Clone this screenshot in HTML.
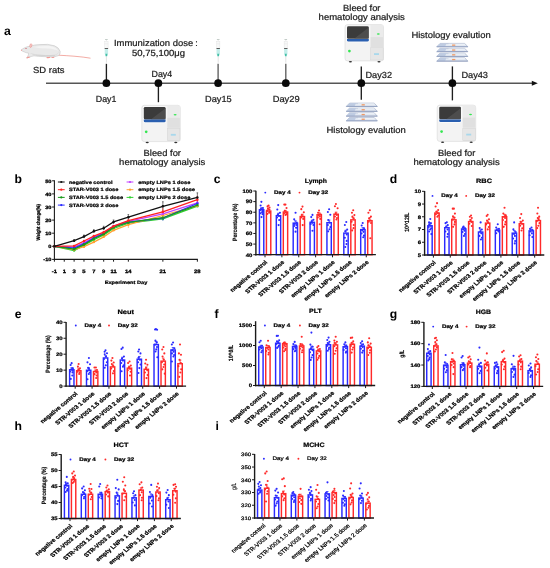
<!DOCTYPE html>
<html><head><meta charset="utf-8"><style>html,body{margin:0;padding:0;background:#fff;width:550px;height:568px;overflow:hidden;}</style></head><body>
<svg width="550" height="568" viewBox="0 0 550 568" style="display:block;will-change:transform;filter:blur(0.3px)">
<rect width="550" height="568" fill="#fff"/>
<g font-family='"Liberation Sans", sans-serif' text-rendering="geometricPrecision">
<text x="3.90" y="35.10" font-size="12.2" font-weight="bold" text-anchor="start" fill="#000" >a</text>
<g><path d="M58.5 55.2 Q66 55.6 74 56.2 Q84 57.0 90.5 58.2" stroke="#f2a39b" stroke-width="0.9" fill="none"/><path d="M21.3 50.1 Q22.5 48.6 25.5 47.4 Q28 46.3 30.5 46.2 Q34 44.6 40 44.6 Q48 43.6 54.5 45.8 Q59 47.6 60.2 51.5 Q60.5 54.5 58.5 55.6 Q55 57 51 56.9 L44 56.6 Q38 56.5 34 55.8 Q31.5 56.3 29.5 57.2 L26.8 58.0 Q26.6 57.4 27.6 56.7 Q28.6 55 28.7 53.2 Q26 52.8 24 51.8 Q22 51.2 21.3 50.1 Z" fill="#e9e9e9" stroke="#bfbfbf" stroke-width="0.55"/><path d="M33 47 Q40 45.5 50 46 Q56 47 58.5 51 Q55 49 48 48.5 Q40 48.5 33 47 Z" fill="#f4f4f4"/><path d="M30 53 Q40 56 56 54.5 Q58 53 59 51 Q58 55 54 56 Q44 56.6 34 55.6 Z" fill="#dadada"/><path d="M36 55.2 Q45 55.8 55 55.5" stroke="#cfcfcf" stroke-width="0.6" fill="none"/><ellipse cx="30.8" cy="45.6" rx="1.0" ry="1.9" fill="#f6c9c6" stroke="#e98a86" stroke-width="0.5" transform="rotate(15 30.8 45.6)"/><circle cx="26.0" cy="48.5" r="0.55" fill="#c8404a"/><path d="M26.6 57.9 Q28 57.4 29.6 57.1" stroke="#f09a94" stroke-width="1.1" fill="none"/><path d="M46.6 57.5 Q48.5 57.9 50.2 57.3" stroke="#f09a94" stroke-width="1.1" fill="none"/><path d="M51.5 57.4 Q53 57.8 54.3 57.2" stroke="#f09a94" stroke-width="1.0" fill="none"/><circle cx="21.5" cy="50.2" r="0.6" fill="#f0a0a0"/></g>
<text x="33.00" y="72.70" font-size="8.8" font-weight="normal" text-anchor="start" fill="#1c1c1c" stroke="#1c1c1c" stroke-width="0.22" textLength="31.5" lengthAdjust="spacingAndGlyphs">SD rats</text>
<line x1="46.00" y1="83.30" x2="533.00" y2="83.30" stroke="#565656" stroke-width="1.5" />
<path d="M531.8 80.8 L537.8 83.3 L531.8 85.8 Z" fill="#111"/>
<line x1="106.40" y1="63.80" x2="106.40" y2="83.00" stroke="#1e1e1e" stroke-width="1.35" />
<line x1="158.40" y1="83.00" x2="158.40" y2="102.20" stroke="#1e1e1e" stroke-width="1.35" />
<line x1="218.10" y1="63.80" x2="218.10" y2="83.00" stroke="#5e5e5e" stroke-width="1.35" />
<line x1="285.80" y1="63.80" x2="285.80" y2="83.00" stroke="#5e5e5e" stroke-width="1.35" />
<line x1="361.30" y1="66.50" x2="361.30" y2="99.70" stroke="#1e1e1e" stroke-width="1.35" />
<line x1="452.40" y1="66.40" x2="452.40" y2="100.40" stroke="#1e1e1e" stroke-width="1.35" />
<circle cx="106.4" cy="83.2" r="3.85" fill="#0a0a0a"/>
<circle cx="158.4" cy="83.2" r="3.85" fill="#0a0a0a"/>
<circle cx="218.1" cy="83.2" r="3.85" fill="#0a0a0a"/>
<circle cx="285.8" cy="83.2" r="3.85" fill="#0a0a0a"/>
<circle cx="361.3" cy="83.2" r="3.85" fill="#0a0a0a"/>
<circle cx="452.4" cy="83.2" r="3.85" fill="#0a0a0a"/>
<g transform="translate(106.40,39.20)"><line x1="-1.3" y1="0.3" x2="1.3" y2="0.3" stroke="#a9b8b0" stroke-width="0.7"/><line x1="0" y1="0.3" x2="0" y2="2" stroke="#d0d0d0" stroke-width="0.5"/><rect x="-1.7" y="2" width="3.4" height="7.2" fill="#f7f8f8" stroke="#e0e0e0" stroke-width="0.4"/><line x1="-1.8" y1="4.6" x2="1.8" y2="4.6" stroke="#e6e6e6" stroke-width="0.5"/><rect x="-1.7" y="8.8" width="3.4" height="0.9" fill="#4a4a4a"/><path d="M-1.7 9.7 L1.7 9.7 L1.7 14.6 L0.8 17 L-0.8 17 L-1.7 14.6 Z" fill="#c4eeea"/><path d="M-1.0 14.6 L1.0 14.6 L0.7 17 L-0.7 17 Z" fill="#43bfa6"/><line x1="0" y1="17" x2="0" y2="23.5" stroke="#c4c4c4" stroke-width="0.5"/></g>
<g transform="translate(218.20,39.20)"><line x1="-1.3" y1="0.3" x2="1.3" y2="0.3" stroke="#a9b8b0" stroke-width="0.7"/><line x1="0" y1="0.3" x2="0" y2="2" stroke="#d0d0d0" stroke-width="0.5"/><rect x="-1.7" y="2" width="3.4" height="7.2" fill="#f7f8f8" stroke="#e0e0e0" stroke-width="0.4"/><line x1="-1.8" y1="4.6" x2="1.8" y2="4.6" stroke="#e6e6e6" stroke-width="0.5"/><rect x="-1.7" y="8.8" width="3.4" height="0.9" fill="#4a4a4a"/><path d="M-1.7 9.7 L1.7 9.7 L1.7 14.6 L0.8 17 L-0.8 17 L-1.7 14.6 Z" fill="#c4eeea"/><path d="M-1.0 14.6 L1.0 14.6 L0.7 17 L-0.7 17 Z" fill="#43bfa6"/><line x1="0" y1="17" x2="0" y2="23.5" stroke="#c4c4c4" stroke-width="0.5"/></g>
<g transform="translate(285.80,39.20)"><line x1="-1.3" y1="0.3" x2="1.3" y2="0.3" stroke="#a9b8b0" stroke-width="0.7"/><line x1="0" y1="0.3" x2="0" y2="2" stroke="#d0d0d0" stroke-width="0.5"/><rect x="-1.7" y="2" width="3.4" height="7.2" fill="#f7f8f8" stroke="#e0e0e0" stroke-width="0.4"/><line x1="-1.8" y1="4.6" x2="1.8" y2="4.6" stroke="#e6e6e6" stroke-width="0.5"/><rect x="-1.7" y="8.8" width="3.4" height="0.9" fill="#4a4a4a"/><path d="M-1.7 9.7 L1.7 9.7 L1.7 14.6 L0.8 17 L-0.8 17 L-1.7 14.6 Z" fill="#c4eeea"/><path d="M-1.0 14.6 L1.0 14.6 L0.7 17 L-0.7 17 Z" fill="#43bfa6"/><line x1="0" y1="17" x2="0" y2="23.5" stroke="#c4c4c4" stroke-width="0.5"/></g>
<text x="114.00" y="46.10" font-size="8.9" font-weight="normal" text-anchor="start" fill="#1c1c1c" stroke="#1c1c1c" stroke-width="0.22" textLength="79.2" lengthAdjust="spacingAndGlyphs">Immunization dose</text>
<text x="195.20" y="46.10" font-size="8.9" font-weight="normal" text-anchor="start" fill="#1c1c1c" stroke="#1c1c1c" stroke-width="0.22" >:</text>
<text x="132.00" y="55.60" font-size="8.9" font-weight="normal" text-anchor="start" fill="#1c1c1c" stroke="#1c1c1c" stroke-width="0.22" textLength="53" lengthAdjust="spacingAndGlyphs">50,75,100μg</text>
<text x="95.80" y="102.40" font-size="8.9" font-weight="normal" text-anchor="start" fill="#1c1c1c" stroke="#1c1c1c" stroke-width="0.22" textLength="20.6" lengthAdjust="spacingAndGlyphs">Day1</text>
<text x="151.60" y="77.20" font-size="8.9" font-weight="normal" text-anchor="start" fill="#1c1c1c" stroke="#1c1c1c" stroke-width="0.22" textLength="20.6" lengthAdjust="spacingAndGlyphs">Day4</text>
<text x="205.10" y="102.40" font-size="8.9" font-weight="normal" text-anchor="start" fill="#1c1c1c" stroke="#1c1c1c" stroke-width="0.22" textLength="26.6" lengthAdjust="spacingAndGlyphs">Day15</text>
<text x="272.70" y="102.40" font-size="8.9" font-weight="normal" text-anchor="start" fill="#1c1c1c" stroke="#1c1c1c" stroke-width="0.22" textLength="26.9" lengthAdjust="spacingAndGlyphs">Day29</text>
<text x="365.50" y="78.00" font-size="8.9" font-weight="normal" text-anchor="start" fill="#1c1c1c" stroke="#1c1c1c" stroke-width="0.22" textLength="26.5" lengthAdjust="spacingAndGlyphs">Day32</text>
<text x="461.40" y="77.80" font-size="8.9" font-weight="normal" text-anchor="start" fill="#1c1c1c" stroke="#1c1c1c" stroke-width="0.22" textLength="26.6" lengthAdjust="spacingAndGlyphs">Day43</text>
<g transform="translate(141.80,105.30) scale(1.0000)"><rect x="0" y="0" width="38.5" height="36.3" rx="2.5" fill="#f3f3f3" stroke="#d8d8d8" stroke-width="0.6"/><rect x="25.6" y="0.4" width="12.5" height="35.5" fill="#ebebeb"/><rect x="25.6" y="12.5" width="12.5" height="10" fill="#e0e0e0"/><rect x="25.6" y="23.2" width="12.5" height="12.2" fill="#e6e6e6" stroke="#d0d0d0" stroke-width="0.4"/><rect x="29" y="28.6" width="5" height="1.8" fill="#a8d8ec"/><path d="M1.2 1.2 L24.6 1.2 L24.6 15.5 Q24.6 18 22 18 L3.8 18 Q1.2 18 1.2 15.5 Z" fill="#fbfbfb"/><rect x="2.0" y="1.6" width="21.8" height="12.6" rx="1.4" fill="#3b3b3b"/><path d="M9 14.2 L23.8 3 L23.8 14.2 Z" fill="#5a5a5a" opacity="0.6"/><path d="M2.0 14.3 L23.8 14.3 L23.8 15.6 Q23.8 16.9 22.4 16.9 L3.4 16.9 Q2.0 16.9 2.0 15.6 Z" fill="#2a5fb0"/><ellipse cx="33.3" cy="9.5" rx="1.5" ry="0.75" fill="#33e650"/><circle cx="4.4" cy="26.5" r="1.35" fill="#33e650"/><ellipse cx="5.4" cy="37.2" rx="1.6" ry="0.75" fill="#333"/><ellipse cx="34.0" cy="37.2" rx="1.6" ry="0.75" fill="#333"/></g>
<g transform="translate(345.00,24.60) scale(1.0000)"><rect x="0" y="0" width="38.5" height="36.3" rx="2.5" fill="#f3f3f3" stroke="#d8d8d8" stroke-width="0.6"/><rect x="25.6" y="0.4" width="12.5" height="35.5" fill="#ebebeb"/><rect x="25.6" y="12.5" width="12.5" height="10" fill="#e0e0e0"/><rect x="25.6" y="23.2" width="12.5" height="12.2" fill="#e6e6e6" stroke="#d0d0d0" stroke-width="0.4"/><rect x="29" y="28.6" width="5" height="1.8" fill="#a8d8ec"/><path d="M1.2 1.2 L24.6 1.2 L24.6 15.5 Q24.6 18 22 18 L3.8 18 Q1.2 18 1.2 15.5 Z" fill="#fbfbfb"/><rect x="2.0" y="1.6" width="21.8" height="12.6" rx="1.4" fill="#3b3b3b"/><path d="M9 14.2 L23.8 3 L23.8 14.2 Z" fill="#5a5a5a" opacity="0.6"/><path d="M2.0 14.3 L23.8 14.3 L23.8 15.6 Q23.8 16.9 22.4 16.9 L3.4 16.9 Q2.0 16.9 2.0 15.6 Z" fill="#2a5fb0"/><ellipse cx="33.3" cy="9.5" rx="1.5" ry="0.75" fill="#33e650"/><circle cx="4.4" cy="26.5" r="1.35" fill="#33e650"/><ellipse cx="5.4" cy="37.2" rx="1.6" ry="0.75" fill="#333"/><ellipse cx="34.0" cy="37.2" rx="1.6" ry="0.75" fill="#333"/></g>
<g transform="translate(437.20,105.10) scale(1.0000)"><rect x="0" y="0" width="38.5" height="36.3" rx="2.5" fill="#f3f3f3" stroke="#d8d8d8" stroke-width="0.6"/><rect x="25.6" y="0.4" width="12.5" height="35.5" fill="#ebebeb"/><rect x="25.6" y="12.5" width="12.5" height="10" fill="#e0e0e0"/><rect x="25.6" y="23.2" width="12.5" height="12.2" fill="#e6e6e6" stroke="#d0d0d0" stroke-width="0.4"/><rect x="29" y="28.6" width="5" height="1.8" fill="#a8d8ec"/><path d="M1.2 1.2 L24.6 1.2 L24.6 15.5 Q24.6 18 22 18 L3.8 18 Q1.2 18 1.2 15.5 Z" fill="#fbfbfb"/><rect x="2.0" y="1.6" width="21.8" height="12.6" rx="1.4" fill="#3b3b3b"/><path d="M9 14.2 L23.8 3 L23.8 14.2 Z" fill="#5a5a5a" opacity="0.6"/><path d="M2.0 14.3 L23.8 14.3 L23.8 15.6 Q23.8 16.9 22.4 16.9 L3.4 16.9 Q2.0 16.9 2.0 15.6 Z" fill="#2a5fb0"/><ellipse cx="33.3" cy="9.5" rx="1.5" ry="0.75" fill="#33e650"/><circle cx="4.4" cy="26.5" r="1.35" fill="#33e650"/><ellipse cx="5.4" cy="37.2" rx="1.6" ry="0.75" fill="#333"/><ellipse cx="34.0" cy="37.2" rx="1.6" ry="0.75" fill="#333"/></g>
<g transform="translate(346.00,103.00) scale(1.0000,1.0000)"><path d="M3.6 0.1 L28.2 0.1 L31.4 3.5 L0.2 3.5 Z" fill="#e3e9f2" stroke="#92a1bf" stroke-width="0.55"/><path d="M3.6 0.1 L10 0.1 L8.5 3.5 L0.2 3.5 Z" fill="#bfcce2"/><path d="M12 0.9 L28.5 0.9" stroke="#f4f7fb" stroke-width="0.8"/><line x1="0.3" y1="3.4" x2="31.3" y2="3.4" stroke="#8292b6" stroke-width="0.7"/><rect x="15.6" y="1.2000000000000002" width="3.2" height="1.3" fill="#ee9a66"/><path d="M3.6 5.0 L28.2 5.0 L31.4 8.4 L0.2 8.4 Z" fill="#e3e9f2" stroke="#92a1bf" stroke-width="0.55"/><path d="M3.6 5.0 L10 5.0 L8.5 8.4 L0.2 8.4 Z" fill="#bfcce2"/><path d="M12 5.8 L28.5 5.8" stroke="#f4f7fb" stroke-width="0.8"/><line x1="0.3" y1="8.3" x2="31.3" y2="8.3" stroke="#8292b6" stroke-width="0.7"/><rect x="15.6" y="6.1" width="3.2" height="1.3" fill="#ee9a66"/><path d="M3.6 9.8 L28.2 9.8 L31.4 13.200000000000001 L0.2 13.200000000000001 Z" fill="#e3e9f2" stroke="#92a1bf" stroke-width="0.55"/><path d="M3.6 9.8 L10 9.8 L8.5 13.200000000000001 L0.2 13.200000000000001 Z" fill="#bfcce2"/><path d="M12 10.600000000000001 L28.5 10.600000000000001" stroke="#f4f7fb" stroke-width="0.8"/><line x1="0.3" y1="13.100000000000001" x2="31.3" y2="13.100000000000001" stroke="#8292b6" stroke-width="0.7"/><rect x="15.6" y="10.9" width="3.2" height="1.3" fill="#ee9a66"/><path d="M3.6 14.5 L28.2 14.5 L31.4 17.9 L0.2 17.9 Z" fill="#e3e9f2" stroke="#92a1bf" stroke-width="0.55"/><path d="M3.6 14.5 L10 14.5 L8.5 17.9 L0.2 17.9 Z" fill="#bfcce2"/><path d="M12 15.3 L28.5 15.3" stroke="#f4f7fb" stroke-width="0.8"/><line x1="0.3" y1="17.8" x2="31.3" y2="17.8" stroke="#8292b6" stroke-width="0.7"/><rect x="15.6" y="15.6" width="3.2" height="1.3" fill="#ee9a66"/></g>
<g transform="translate(436.50,43.30) scale(1.0000,1.0000)"><path d="M3.6 0.1 L28.2 0.1 L31.4 3.5 L0.2 3.5 Z" fill="#e3e9f2" stroke="#92a1bf" stroke-width="0.55"/><path d="M3.6 0.1 L10 0.1 L8.5 3.5 L0.2 3.5 Z" fill="#bfcce2"/><path d="M12 0.9 L28.5 0.9" stroke="#f4f7fb" stroke-width="0.8"/><line x1="0.3" y1="3.4" x2="31.3" y2="3.4" stroke="#8292b6" stroke-width="0.7"/><rect x="15.6" y="1.2000000000000002" width="3.2" height="1.3" fill="#ee9a66"/><path d="M3.6 5.0 L28.2 5.0 L31.4 8.4 L0.2 8.4 Z" fill="#e3e9f2" stroke="#92a1bf" stroke-width="0.55"/><path d="M3.6 5.0 L10 5.0 L8.5 8.4 L0.2 8.4 Z" fill="#bfcce2"/><path d="M12 5.8 L28.5 5.8" stroke="#f4f7fb" stroke-width="0.8"/><line x1="0.3" y1="8.3" x2="31.3" y2="8.3" stroke="#8292b6" stroke-width="0.7"/><rect x="15.6" y="6.1" width="3.2" height="1.3" fill="#ee9a66"/><path d="M3.6 9.8 L28.2 9.8 L31.4 13.200000000000001 L0.2 13.200000000000001 Z" fill="#e3e9f2" stroke="#92a1bf" stroke-width="0.55"/><path d="M3.6 9.8 L10 9.8 L8.5 13.200000000000001 L0.2 13.200000000000001 Z" fill="#bfcce2"/><path d="M12 10.600000000000001 L28.5 10.600000000000001" stroke="#f4f7fb" stroke-width="0.8"/><line x1="0.3" y1="13.100000000000001" x2="31.3" y2="13.100000000000001" stroke="#8292b6" stroke-width="0.7"/><rect x="15.6" y="10.9" width="3.2" height="1.3" fill="#ee9a66"/><path d="M3.6 14.5 L28.2 14.5 L31.4 17.9 L0.2 17.9 Z" fill="#e3e9f2" stroke="#92a1bf" stroke-width="0.55"/><path d="M3.6 14.5 L10 14.5 L8.5 17.9 L0.2 17.9 Z" fill="#bfcce2"/><path d="M12 15.3 L28.5 15.3" stroke="#f4f7fb" stroke-width="0.8"/><line x1="0.3" y1="17.8" x2="31.3" y2="17.8" stroke="#8292b6" stroke-width="0.7"/><rect x="15.6" y="15.6" width="3.2" height="1.3" fill="#ee9a66"/></g>
<text x="143.60" y="155.70" font-size="8.9" font-weight="normal" text-anchor="start" fill="#1c1c1c" stroke="#1c1c1c" stroke-width="0.22" textLength="37.4" lengthAdjust="spacingAndGlyphs">Bleed for</text>
<text x="119.10" y="165.00" font-size="8.9" font-weight="normal" text-anchor="start" fill="#1c1c1c" stroke="#1c1c1c" stroke-width="0.22" textLength="86.2" lengthAdjust="spacingAndGlyphs">hematology analysis</text>
<text x="343.10" y="10.60" font-size="8.9" font-weight="normal" text-anchor="start" fill="#1c1c1c" stroke="#1c1c1c" stroke-width="0.22" textLength="37.4" lengthAdjust="spacingAndGlyphs">Bleed for</text>
<text x="318.60" y="20.00" font-size="8.9" font-weight="normal" text-anchor="start" fill="#1c1c1c" stroke="#1c1c1c" stroke-width="0.22" textLength="86.2" lengthAdjust="spacingAndGlyphs">hematology analysis</text>
<text x="438.00" y="155.70" font-size="8.9" font-weight="normal" text-anchor="start" fill="#1c1c1c" stroke="#1c1c1c" stroke-width="0.22" textLength="37.4" lengthAdjust="spacingAndGlyphs">Bleed for</text>
<text x="413.50" y="165.20" font-size="8.9" font-weight="normal" text-anchor="start" fill="#1c1c1c" stroke="#1c1c1c" stroke-width="0.22" textLength="86.2" lengthAdjust="spacingAndGlyphs">hematology analysis</text>
<text x="326.50" y="132.90" font-size="8.9" font-weight="normal" text-anchor="start" fill="#1c1c1c" stroke="#1c1c1c" stroke-width="0.22" textLength="79.3" lengthAdjust="spacingAndGlyphs">Histology evalution</text>
<text x="411.40" y="38.00" font-size="8.9" font-weight="normal" text-anchor="start" fill="#1c1c1c" stroke="#1c1c1c" stroke-width="0.22" textLength="79.3" lengthAdjust="spacingAndGlyphs">Histology evalution</text>
<text x="14.40" y="182.70" font-size="12.2" font-weight="bold" text-anchor="start" fill="#000" >b</text>
<line x1="54.40" y1="180.30" x2="54.40" y2="260.00" stroke="#1a1a1a" stroke-width="1.1" />
<line x1="53.90" y1="259.40" x2="197.87" y2="259.40" stroke="#1a1a1a" stroke-width="1.1" />
<line x1="52.10" y1="259.40" x2="54.40" y2="259.40" stroke="#1a1a1a" stroke-width="1" />
<text transform="translate(51.40,261.10) scale(1.2,1)" font-size="4.7" font-weight="bold" text-anchor="end" fill="#000" stroke="#000" stroke-width="0.28" >-10</text>
<line x1="52.10" y1="246.30" x2="54.40" y2="246.30" stroke="#1a1a1a" stroke-width="1" />
<text transform="translate(51.40,248.00) scale(1.2,1)" font-size="4.7" font-weight="bold" text-anchor="end" fill="#000" stroke="#000" stroke-width="0.28" >0</text>
<line x1="52.10" y1="233.20" x2="54.40" y2="233.20" stroke="#1a1a1a" stroke-width="1" />
<text transform="translate(51.40,234.90) scale(1.2,1)" font-size="4.7" font-weight="bold" text-anchor="end" fill="#000" stroke="#000" stroke-width="0.28" >10</text>
<line x1="52.10" y1="220.10" x2="54.40" y2="220.10" stroke="#1a1a1a" stroke-width="1" />
<text transform="translate(51.40,221.80) scale(1.2,1)" font-size="4.7" font-weight="bold" text-anchor="end" fill="#000" stroke="#000" stroke-width="0.28" >20</text>
<line x1="52.10" y1="207.00" x2="54.40" y2="207.00" stroke="#1a1a1a" stroke-width="1" />
<text transform="translate(51.40,208.70) scale(1.2,1)" font-size="4.7" font-weight="bold" text-anchor="end" fill="#000" stroke="#000" stroke-width="0.28" >30</text>
<line x1="52.10" y1="193.90" x2="54.40" y2="193.90" stroke="#1a1a1a" stroke-width="1" />
<text transform="translate(51.40,195.60) scale(1.2,1)" font-size="4.7" font-weight="bold" text-anchor="end" fill="#000" stroke="#000" stroke-width="0.28" >40</text>
<line x1="52.10" y1="180.80" x2="54.40" y2="180.80" stroke="#1a1a1a" stroke-width="1" />
<text transform="translate(51.40,182.50) scale(1.2,1)" font-size="4.7" font-weight="bold" text-anchor="end" fill="#000" stroke="#000" stroke-width="0.28" >50</text>
<line x1="54.40" y1="259.40" x2="54.40" y2="261.70" stroke="#1a1a1a" stroke-width="1" />
<text transform="translate(54.40,273.40) scale(1.2,1)" font-size="4.9" font-weight="bold" text-anchor="middle" fill="#000" stroke="#000" stroke-width="0.28" >-1</text>
<line x1="64.26" y1="259.40" x2="64.26" y2="261.70" stroke="#1a1a1a" stroke-width="1" />
<text transform="translate(64.26,273.40) scale(1.2,1)" font-size="4.9" font-weight="bold" text-anchor="middle" fill="#000" stroke="#000" stroke-width="0.28" >1</text>
<line x1="74.12" y1="259.40" x2="74.12" y2="261.70" stroke="#1a1a1a" stroke-width="1" />
<text transform="translate(74.12,273.40) scale(1.2,1)" font-size="4.9" font-weight="bold" text-anchor="middle" fill="#000" stroke="#000" stroke-width="0.28" >3</text>
<line x1="83.98" y1="259.40" x2="83.98" y2="261.70" stroke="#1a1a1a" stroke-width="1" />
<text transform="translate(83.98,273.40) scale(1.2,1)" font-size="4.9" font-weight="bold" text-anchor="middle" fill="#000" stroke="#000" stroke-width="0.28" >5</text>
<line x1="93.84" y1="259.40" x2="93.84" y2="261.70" stroke="#1a1a1a" stroke-width="1" />
<text transform="translate(93.84,273.40) scale(1.2,1)" font-size="4.9" font-weight="bold" text-anchor="middle" fill="#000" stroke="#000" stroke-width="0.28" >7</text>
<line x1="103.70" y1="259.40" x2="103.70" y2="261.70" stroke="#1a1a1a" stroke-width="1" />
<text transform="translate(103.70,273.40) scale(1.2,1)" font-size="4.9" font-weight="bold" text-anchor="middle" fill="#000" stroke="#000" stroke-width="0.28" >9</text>
<line x1="113.56" y1="259.40" x2="113.56" y2="261.70" stroke="#1a1a1a" stroke-width="1" />
<text transform="translate(113.56,273.40) scale(1.2,1)" font-size="4.9" font-weight="bold" text-anchor="middle" fill="#000" stroke="#000" stroke-width="0.28" >11</text>
<line x1="128.35" y1="259.40" x2="128.35" y2="261.70" stroke="#1a1a1a" stroke-width="1" />
<text transform="translate(128.35,273.40) scale(1.2,1)" font-size="4.9" font-weight="bold" text-anchor="middle" fill="#000" stroke="#000" stroke-width="0.28" >14</text>
<line x1="162.86" y1="259.40" x2="162.86" y2="261.70" stroke="#1a1a1a" stroke-width="1" />
<text transform="translate(162.86,273.40) scale(1.2,1)" font-size="4.9" font-weight="bold" text-anchor="middle" fill="#000" stroke="#000" stroke-width="0.28" >21</text>
<line x1="197.37" y1="259.40" x2="197.37" y2="261.70" stroke="#1a1a1a" stroke-width="1" />
<text transform="translate(197.37,273.40) scale(1.2,1)" font-size="4.9" font-weight="bold" text-anchor="middle" fill="#000" stroke="#000" stroke-width="0.28" >28</text>
<text transform="translate(126.00,284.20) scale(1.2,1)" font-size="4.7" font-weight="bold" text-anchor="middle" fill="#000" stroke="#000" stroke-width="0.22" >Experiment Day</text>
<text transform="translate(40.20,222.30) scale(1.2,1) rotate(-90)" font-size="4.2" font-weight="bold" text-anchor="middle" fill="#000" stroke="#000" stroke-width="0.22" >Weight change(%)</text>
<line x1="74.12" y1="239.62" x2="74.12" y2="241.72" stroke="#222" stroke-width="0.6" />
<line x1="73.32" y1="239.62" x2="74.92" y2="239.62" stroke="#222" stroke-width="0.6" />
<line x1="83.98" y1="235.03" x2="83.98" y2="238.18" stroke="#222" stroke-width="0.6" />
<line x1="83.18" y1="235.03" x2="84.78" y2="235.03" stroke="#222" stroke-width="0.6" />
<line x1="93.84" y1="229.66" x2="93.84" y2="232.81" stroke="#222" stroke-width="0.6" />
<line x1="93.04" y1="229.66" x2="94.64" y2="229.66" stroke="#222" stroke-width="0.6" />
<line x1="103.70" y1="226.26" x2="103.70" y2="230.19" stroke="#222" stroke-width="0.6" />
<line x1="102.90" y1="226.26" x2="104.50" y2="226.26" stroke="#222" stroke-width="0.6" />
<line x1="113.56" y1="219.97" x2="113.56" y2="223.90" stroke="#222" stroke-width="0.6" />
<line x1="112.76" y1="219.97" x2="114.36" y2="219.97" stroke="#222" stroke-width="0.6" />
<line x1="128.35" y1="214.60" x2="128.35" y2="219.84" stroke="#222" stroke-width="0.6" />
<line x1="127.55" y1="214.60" x2="129.15" y2="214.60" stroke="#222" stroke-width="0.6" />
<line x1="162.86" y1="201.76" x2="162.86" y2="210.93" stroke="#222" stroke-width="0.6" />
<line x1="162.06" y1="201.76" x2="163.66" y2="201.76" stroke="#222" stroke-width="0.6" />
<line x1="197.37" y1="192.85" x2="197.37" y2="202.02" stroke="#222" stroke-width="0.6" />
<line x1="196.57" y1="192.85" x2="198.17" y2="192.85" stroke="#222" stroke-width="0.6" />
<line x1="162.86" y1="207.92" x2="162.86" y2="215.78" stroke="#ff2020" stroke-width="0.6" />
<line x1="197.37" y1="195.73" x2="197.37" y2="203.59" stroke="#ff2020" stroke-width="0.6" />
<line x1="162.86" y1="215.52" x2="162.86" y2="220.75" stroke="#2a2aff" stroke-width="0.6" />
<line x1="128.35" y1="221.41" x2="128.35" y2="227.96" stroke="#ffa030" stroke-width="0.6" />
<line x1="162.86" y1="212.24" x2="162.86" y2="218.79" stroke="#ffa030" stroke-width="0.6" />
<polyline points="54.40,246.30 74.12,250.49 83.98,245.51 93.84,239.75 103.70,235.03 113.56,228.48 128.35,223.24 162.86,218.92 197.37,206.21" fill="none" stroke="#30d030" stroke-width="1.25"/>
<circle cx="54.40" cy="246.30" r="1.25" fill="#30d030"/>
<circle cx="74.12" cy="250.49" r="1.25" fill="#30d030"/>
<circle cx="83.98" cy="245.51" r="1.25" fill="#30d030"/>
<circle cx="93.84" cy="239.75" r="1.25" fill="#30d030"/>
<circle cx="103.70" cy="235.03" r="1.25" fill="#30d030"/>
<circle cx="113.56" cy="228.48" r="1.25" fill="#30d030"/>
<circle cx="128.35" cy="223.24" r="1.25" fill="#30d030"/>
<circle cx="162.86" cy="218.92" r="1.25" fill="#30d030"/>
<circle cx="197.37" cy="206.21" r="1.25" fill="#30d030"/>
<polyline points="54.40,246.30 74.12,249.71 83.98,246.69 93.84,242.11 103.70,236.87 113.56,230.32 128.35,224.69 162.86,215.52 197.37,205.69" fill="none" stroke="#ffa030" stroke-width="1.25"/>
<circle cx="54.40" cy="246.30" r="1.25" fill="#ffa030"/>
<circle cx="74.12" cy="249.71" r="1.25" fill="#ffa030"/>
<circle cx="83.98" cy="246.69" r="1.25" fill="#ffa030"/>
<circle cx="93.84" cy="242.11" r="1.25" fill="#ffa030"/>
<circle cx="103.70" cy="236.87" r="1.25" fill="#ffa030"/>
<circle cx="113.56" cy="230.32" r="1.25" fill="#ffa030"/>
<circle cx="128.35" cy="224.69" r="1.25" fill="#ffa030"/>
<circle cx="162.86" cy="215.52" r="1.25" fill="#ffa030"/>
<circle cx="197.37" cy="205.69" r="1.25" fill="#ffa030"/>
<polyline points="54.40,246.30 74.12,247.09 83.98,242.89 93.84,237.39 103.70,232.81 113.56,226.00 128.35,221.41 162.86,213.81 197.37,202.81" fill="none" stroke="#c040ff" stroke-width="1.25"/>
<circle cx="54.40" cy="246.30" r="1.25" fill="#c040ff"/>
<circle cx="74.12" cy="247.09" r="1.25" fill="#c040ff"/>
<circle cx="83.98" cy="242.89" r="1.25" fill="#c040ff"/>
<circle cx="93.84" cy="237.39" r="1.25" fill="#c040ff"/>
<circle cx="103.70" cy="232.81" r="1.25" fill="#c040ff"/>
<circle cx="113.56" cy="226.00" r="1.25" fill="#c040ff"/>
<circle cx="128.35" cy="221.41" r="1.25" fill="#c040ff"/>
<circle cx="162.86" cy="213.81" r="1.25" fill="#c040ff"/>
<circle cx="197.37" cy="202.81" r="1.25" fill="#c040ff"/>
<polyline points="54.40,246.30 74.12,248.00 83.98,243.94 93.84,238.05 103.70,233.46 113.56,226.65 128.35,222.20 162.86,218.14 197.37,203.46" fill="none" stroke="#2a2aff" stroke-width="1.25"/>
<circle cx="54.40" cy="246.30" r="1.25" fill="#2a2aff"/>
<circle cx="74.12" cy="248.00" r="1.25" fill="#2a2aff"/>
<circle cx="83.98" cy="243.94" r="1.25" fill="#2a2aff"/>
<circle cx="93.84" cy="238.05" r="1.25" fill="#2a2aff"/>
<circle cx="103.70" cy="233.46" r="1.25" fill="#2a2aff"/>
<circle cx="113.56" cy="226.65" r="1.25" fill="#2a2aff"/>
<circle cx="128.35" cy="222.20" r="1.25" fill="#2a2aff"/>
<circle cx="162.86" cy="218.14" r="1.25" fill="#2a2aff"/>
<circle cx="197.37" cy="203.46" r="1.25" fill="#2a2aff"/>
<polyline points="54.40,246.30 74.12,249.18 83.98,244.60 93.84,238.70 103.70,234.12 113.56,227.17 128.35,222.46 162.86,217.74 197.37,205.04" fill="none" stroke="#1a9a1a" stroke-width="1.25"/>
<circle cx="54.40" cy="246.30" r="1.25" fill="#1a9a1a"/>
<circle cx="74.12" cy="249.18" r="1.25" fill="#1a9a1a"/>
<circle cx="83.98" cy="244.60" r="1.25" fill="#1a9a1a"/>
<circle cx="93.84" cy="238.70" r="1.25" fill="#1a9a1a"/>
<circle cx="103.70" cy="234.12" r="1.25" fill="#1a9a1a"/>
<circle cx="113.56" cy="227.17" r="1.25" fill="#1a9a1a"/>
<circle cx="128.35" cy="222.46" r="1.25" fill="#1a9a1a"/>
<circle cx="162.86" cy="217.74" r="1.25" fill="#1a9a1a"/>
<circle cx="197.37" cy="205.04" r="1.25" fill="#1a9a1a"/>
<polyline points="54.40,246.30 74.12,245.91 83.98,241.06 93.84,236.08 103.70,232.15 113.56,226.13 128.35,220.62 162.86,211.85 197.37,199.66" fill="none" stroke="#ff2020" stroke-width="1.25"/>
<circle cx="54.40" cy="246.30" r="1.25" fill="#ff2020"/>
<circle cx="74.12" cy="245.91" r="1.25" fill="#ff2020"/>
<circle cx="83.98" cy="241.06" r="1.25" fill="#ff2020"/>
<circle cx="93.84" cy="236.08" r="1.25" fill="#ff2020"/>
<circle cx="103.70" cy="232.15" r="1.25" fill="#ff2020"/>
<circle cx="113.56" cy="226.13" r="1.25" fill="#ff2020"/>
<circle cx="128.35" cy="220.62" r="1.25" fill="#ff2020"/>
<circle cx="162.86" cy="211.85" r="1.25" fill="#ff2020"/>
<circle cx="197.37" cy="199.66" r="1.25" fill="#ff2020"/>
<polyline points="54.40,246.30 74.12,240.67 83.98,236.61 93.84,231.24 103.70,228.22 113.56,221.93 128.35,217.22 162.86,206.35 197.37,197.44" fill="none" stroke="#111111" stroke-width="1.25"/>
<circle cx="54.40" cy="246.30" r="1.25" fill="#111111"/>
<circle cx="74.12" cy="240.67" r="1.25" fill="#111111"/>
<circle cx="83.98" cy="236.61" r="1.25" fill="#111111"/>
<circle cx="93.84" cy="231.24" r="1.25" fill="#111111"/>
<circle cx="103.70" cy="228.22" r="1.25" fill="#111111"/>
<circle cx="113.56" cy="221.93" r="1.25" fill="#111111"/>
<circle cx="128.35" cy="217.22" r="1.25" fill="#111111"/>
<circle cx="162.86" cy="206.35" r="1.25" fill="#111111"/>
<circle cx="197.37" cy="197.44" r="1.25" fill="#111111"/>
<line x1="57.90" y1="182.00" x2="64.70" y2="182.00" stroke="#111111" stroke-width="1.0" />
<circle cx="61.3" cy="182.0" r="1.1" fill="#111111"/>
<text transform="translate(68.90,183.70) scale(1.2,1)" font-size="4.72" font-weight="bold" text-anchor="start" fill="#000" stroke="#000" stroke-width="0.22" >negative control</text>
<line x1="57.90" y1="189.70" x2="64.70" y2="189.70" stroke="#ff2020" stroke-width="1.0" />
<circle cx="61.3" cy="189.7" r="1.1" fill="#ff2020"/>
<text transform="translate(68.90,191.40) scale(1.2,1)" font-size="4.72" font-weight="bold" text-anchor="start" fill="#000" stroke="#000" stroke-width="0.22" >STAR-V003 1 dose</text>
<line x1="57.90" y1="197.40" x2="64.70" y2="197.40" stroke="#1a9a1a" stroke-width="1.0" />
<circle cx="61.3" cy="197.4" r="1.1" fill="#1a9a1a"/>
<text transform="translate(68.90,199.10) scale(1.2,1)" font-size="4.72" font-weight="bold" text-anchor="start" fill="#000" stroke="#000" stroke-width="0.22" >STAR-V003 1.5 dose</text>
<line x1="57.90" y1="205.10" x2="64.70" y2="205.10" stroke="#2a2aff" stroke-width="1.0" />
<circle cx="61.3" cy="205.1" r="1.1" fill="#2a2aff"/>
<text transform="translate(68.90,206.80) scale(1.2,1)" font-size="4.72" font-weight="bold" text-anchor="start" fill="#000" stroke="#000" stroke-width="0.22" >STAR-V003 2 dose</text>
<line x1="126.60" y1="182.00" x2="133.40" y2="182.00" stroke="#c040ff" stroke-width="1.0" />
<circle cx="130.0" cy="182.0" r="1.1" fill="#c040ff"/>
<text transform="translate(138.20,183.70) scale(1.2,1)" font-size="4.72" font-weight="bold" text-anchor="start" fill="#000" stroke="#000" stroke-width="0.22" >empty LNPs 1 dose</text>
<line x1="126.60" y1="189.70" x2="133.40" y2="189.70" stroke="#ffa030" stroke-width="1.0" />
<circle cx="130.0" cy="189.7" r="1.1" fill="#ffa030"/>
<text transform="translate(138.20,191.40) scale(1.2,1)" font-size="4.72" font-weight="bold" text-anchor="start" fill="#000" stroke="#000" stroke-width="0.22" >empty LNPs 1.5 dose</text>
<line x1="126.60" y1="197.40" x2="133.40" y2="197.40" stroke="#30d030" stroke-width="1.0" />
<circle cx="130.0" cy="197.4" r="1.1" fill="#30d030"/>
<text transform="translate(138.20,199.10) scale(1.2,1)" font-size="4.72" font-weight="bold" text-anchor="start" fill="#000" stroke="#000" stroke-width="0.22" >empty LNPs 2 dose</text>
<text x="315.90" y="182.60" font-size="6.3" font-weight="bold" text-anchor="middle" fill="#000" stroke="#000" stroke-width="0.2" textLength="22.2" lengthAdjust="spacingAndGlyphs">Lymph</text>
<text x="213.80" y="182.70" font-size="12.2" font-weight="bold" text-anchor="start" fill="#000" >c</text>
<circle cx="265.30" cy="192.60" r="0.95" fill="#2a2aff"/>
<text transform="translate(274.00,194.10) scale(1.2,1)" font-size="5.2" font-weight="bold" text-anchor="start" fill="#000" stroke="#000" stroke-width="0.22" >Day 4</text>
<circle cx="299.50" cy="192.60" r="0.95" fill="#ff2a2a"/>
<text transform="translate(308.20,194.10) scale(1.2,1)" font-size="5.2" font-weight="bold" text-anchor="start" fill="#000" stroke="#000" stroke-width="0.22" >Day 32</text>
<rect x="259.43" y="209.77" width="4.35" height="44.93" fill="#fff" stroke="#2a2aff" stroke-width="1.45"/>
<line x1="261.60" y1="207.71" x2="261.60" y2="209.05" stroke="#2a2aff" stroke-width="0.8" />
<line x1="260.30" y1="207.71" x2="262.90" y2="207.71" stroke="#2a2aff" stroke-width="0.8" />
<circle cx="261.38" cy="201.83" r="1.05" fill="#2a2aff"/>
<circle cx="260.61" cy="205.54" r="1.05" fill="#2a2aff"/>
<circle cx="262.96" cy="207.99" r="1.05" fill="#2a2aff"/>
<circle cx="260.85" cy="209.05" r="1.05" fill="#2a2aff"/>
<circle cx="262.30" cy="209.58" r="1.05" fill="#2a2aff"/>
<circle cx="260.17" cy="210.11" r="1.05" fill="#2a2aff"/>
<circle cx="262.69" cy="211.17" r="1.05" fill="#2a2aff"/>
<circle cx="262.07" cy="212.23" r="1.05" fill="#2a2aff"/>
<circle cx="260.46" cy="213.29" r="1.05" fill="#2a2aff"/>
<circle cx="262.62" cy="214.14" r="1.05" fill="#2a2aff"/>
<circle cx="261.50" cy="217.12" r="1.05" fill="#2a2aff"/>
<rect x="266.43" y="211.05" width="4.35" height="43.65" fill="#fff" stroke="#ff2a2a" stroke-width="1.45"/>
<line x1="268.60" y1="209.60" x2="268.60" y2="210.32" stroke="#ff2a2a" stroke-width="0.8" />
<line x1="267.30" y1="209.60" x2="269.90" y2="209.60" stroke="#ff2a2a" stroke-width="0.8" />
<circle cx="268.56" cy="205.54" r="1.05" fill="#ff2a2a"/>
<circle cx="267.56" cy="206.39" r="1.05" fill="#ff2a2a"/>
<circle cx="269.50" cy="207.46" r="1.05" fill="#ff2a2a"/>
<circle cx="267.97" cy="208.52" r="1.05" fill="#ff2a2a"/>
<circle cx="269.43" cy="209.58" r="1.05" fill="#ff2a2a"/>
<circle cx="267.04" cy="210.64" r="1.05" fill="#ff2a2a"/>
<circle cx="269.87" cy="211.70" r="1.05" fill="#ff2a2a"/>
<circle cx="269.14" cy="212.76" r="1.05" fill="#ff2a2a"/>
<circle cx="267.42" cy="213.83" r="1.05" fill="#ff2a2a"/>
<rect x="276.31" y="215.72" width="4.35" height="38.98" fill="#fff" stroke="#2a2aff" stroke-width="1.45"/>
<line x1="278.48" y1="213.25" x2="278.48" y2="214.99" stroke="#2a2aff" stroke-width="0.8" />
<line x1="277.18" y1="213.25" x2="279.78" y2="213.25" stroke="#2a2aff" stroke-width="0.8" />
<circle cx="278.20" cy="205.12" r="1.05" fill="#2a2aff"/>
<circle cx="277.30" cy="209.47" r="1.05" fill="#2a2aff"/>
<circle cx="279.94" cy="212.76" r="1.05" fill="#2a2aff"/>
<circle cx="277.81" cy="214.57" r="1.05" fill="#2a2aff"/>
<circle cx="279.01" cy="215.95" r="1.05" fill="#2a2aff"/>
<circle cx="277.03" cy="217.54" r="1.05" fill="#2a2aff"/>
<circle cx="279.20" cy="219.98" r="1.05" fill="#2a2aff"/>
<circle cx="278.61" cy="225.08" r="1.05" fill="#2a2aff"/>
<rect x="283.31" y="212.00" width="4.35" height="42.70" fill="#fff" stroke="#ff2a2a" stroke-width="1.45"/>
<line x1="285.48" y1="210.38" x2="285.48" y2="211.28" stroke="#ff2a2a" stroke-width="0.8" />
<line x1="284.18" y1="210.38" x2="286.78" y2="210.38" stroke="#ff2a2a" stroke-width="0.8" />
<circle cx="285.44" cy="204.59" r="1.05" fill="#ff2a2a"/>
<circle cx="284.28" cy="204.59" r="1.05" fill="#ff2a2a"/>
<circle cx="286.52" cy="207.99" r="1.05" fill="#ff2a2a"/>
<circle cx="284.72" cy="210.85" r="1.05" fill="#ff2a2a"/>
<circle cx="286.01" cy="212.23" r="1.05" fill="#ff2a2a"/>
<circle cx="284.06" cy="213.29" r="1.05" fill="#ff2a2a"/>
<circle cx="286.35" cy="214.14" r="1.05" fill="#ff2a2a"/>
<circle cx="285.49" cy="214.89" r="1.05" fill="#ff2a2a"/>
<rect x="293.19" y="223.15" width="4.35" height="31.55" fill="#fff" stroke="#2a2aff" stroke-width="1.45"/>
<line x1="295.36" y1="220.77" x2="295.36" y2="222.43" stroke="#2a2aff" stroke-width="0.8" />
<line x1="294.06" y1="220.77" x2="296.66" y2="220.77" stroke="#2a2aff" stroke-width="0.8" />
<circle cx="295.56" cy="212.76" r="1.05" fill="#2a2aff"/>
<circle cx="294.19" cy="219.35" r="1.05" fill="#2a2aff"/>
<circle cx="296.65" cy="222.43" r="1.05" fill="#2a2aff"/>
<circle cx="294.57" cy="223.91" r="1.05" fill="#2a2aff"/>
<circle cx="296.36" cy="224.97" r="1.05" fill="#2a2aff"/>
<circle cx="294.18" cy="226.03" r="1.05" fill="#2a2aff"/>
<circle cx="296.13" cy="227.73" r="1.05" fill="#2a2aff"/>
<circle cx="295.56" cy="231.66" r="1.05" fill="#2a2aff"/>
<rect x="300.19" y="216.57" width="4.35" height="38.13" fill="#fff" stroke="#ff2a2a" stroke-width="1.45"/>
<line x1="302.36" y1="214.23" x2="302.36" y2="215.84" stroke="#ff2a2a" stroke-width="0.8" />
<line x1="301.06" y1="214.23" x2="303.66" y2="214.23" stroke="#ff2a2a" stroke-width="0.8" />
<circle cx="302.49" cy="206.61" r="1.05" fill="#ff2a2a"/>
<circle cx="301.29" cy="209.15" r="1.05" fill="#ff2a2a"/>
<circle cx="303.82" cy="212.23" r="1.05" fill="#ff2a2a"/>
<circle cx="301.71" cy="214.99" r="1.05" fill="#ff2a2a"/>
<circle cx="303.26" cy="216.48" r="1.05" fill="#ff2a2a"/>
<circle cx="301.06" cy="217.54" r="1.05" fill="#ff2a2a"/>
<circle cx="303.24" cy="218.92" r="1.05" fill="#ff2a2a"/>
<circle cx="302.71" cy="225.08" r="1.05" fill="#ff2a2a"/>
<rect x="310.06" y="222.30" width="4.35" height="32.40" fill="#fff" stroke="#2a2aff" stroke-width="1.45"/>
<line x1="312.24" y1="220.18" x2="312.24" y2="221.58" stroke="#2a2aff" stroke-width="0.8" />
<line x1="310.94" y1="220.18" x2="313.54" y2="220.18" stroke="#2a2aff" stroke-width="0.8" />
<circle cx="312.47" cy="214.89" r="1.05" fill="#2a2aff"/>
<circle cx="311.25" cy="217.12" r="1.05" fill="#2a2aff"/>
<circle cx="313.44" cy="219.77" r="1.05" fill="#2a2aff"/>
<circle cx="311.69" cy="221.26" r="1.05" fill="#2a2aff"/>
<circle cx="312.66" cy="222.85" r="1.05" fill="#2a2aff"/>
<circle cx="310.69" cy="223.91" r="1.05" fill="#2a2aff"/>
<circle cx="313.42" cy="224.97" r="1.05" fill="#2a2aff"/>
<circle cx="312.49" cy="230.81" r="1.05" fill="#2a2aff"/>
<rect x="317.06" y="214.76" width="4.35" height="39.94" fill="#fff" stroke="#ff2a2a" stroke-width="1.45"/>
<line x1="319.24" y1="212.84" x2="319.24" y2="214.04" stroke="#ff2a2a" stroke-width="0.8" />
<line x1="317.94" y1="212.84" x2="320.54" y2="212.84" stroke="#ff2a2a" stroke-width="0.8" />
<circle cx="319.04" cy="210.53" r="1.05" fill="#ff2a2a"/>
<circle cx="318.07" cy="212.76" r="1.05" fill="#ff2a2a"/>
<circle cx="320.56" cy="214.36" r="1.05" fill="#ff2a2a"/>
<circle cx="318.74" cy="215.42" r="1.05" fill="#ff2a2a"/>
<circle cx="319.86" cy="216.48" r="1.05" fill="#ff2a2a"/>
<circle cx="317.80" cy="217.54" r="1.05" fill="#ff2a2a"/>
<circle cx="320.25" cy="218.92" r="1.05" fill="#ff2a2a"/>
<circle cx="319.71" cy="224.23" r="1.05" fill="#ff2a2a"/>
<rect x="326.94" y="222.73" width="4.35" height="31.97" fill="#fff" stroke="#2a2aff" stroke-width="1.45"/>
<line x1="329.12" y1="220.07" x2="329.12" y2="222.00" stroke="#2a2aff" stroke-width="0.8" />
<line x1="327.82" y1="220.07" x2="330.42" y2="220.07" stroke="#2a2aff" stroke-width="0.8" />
<circle cx="329.13" cy="209.26" r="1.05" fill="#2a2aff"/>
<circle cx="327.86" cy="212.02" r="1.05" fill="#2a2aff"/>
<circle cx="330.31" cy="214.68" r="1.05" fill="#2a2aff"/>
<circle cx="328.24" cy="219.98" r="1.05" fill="#2a2aff"/>
<circle cx="329.55" cy="222.53" r="1.05" fill="#2a2aff"/>
<circle cx="327.84" cy="224.97" r="1.05" fill="#2a2aff"/>
<circle cx="330.41" cy="227.10" r="1.05" fill="#2a2aff"/>
<circle cx="329.48" cy="229.22" r="1.05" fill="#2a2aff"/>
<circle cx="328.16" cy="231.34" r="1.05" fill="#2a2aff"/>
<rect x="333.94" y="214.23" width="4.35" height="40.47" fill="#fff" stroke="#ff2a2a" stroke-width="1.45"/>
<line x1="336.12" y1="212.14" x2="336.12" y2="213.51" stroke="#ff2a2a" stroke-width="0.8" />
<line x1="334.82" y1="212.14" x2="337.42" y2="212.14" stroke="#ff2a2a" stroke-width="0.8" />
<circle cx="335.92" cy="203.95" r="1.05" fill="#ff2a2a"/>
<circle cx="334.92" cy="206.29" r="1.05" fill="#ff2a2a"/>
<circle cx="337.61" cy="208.31" r="1.05" fill="#ff2a2a"/>
<circle cx="335.68" cy="213.19" r="1.05" fill="#ff2a2a"/>
<circle cx="336.84" cy="214.89" r="1.05" fill="#ff2a2a"/>
<circle cx="334.94" cy="216.48" r="1.05" fill="#ff2a2a"/>
<circle cx="336.96" cy="218.07" r="1.05" fill="#ff2a2a"/>
<circle cx="336.43" cy="219.56" r="1.05" fill="#ff2a2a"/>
<rect x="343.82" y="233.13" width="4.35" height="21.57" fill="#fff" stroke="#2a2aff" stroke-width="1.45"/>
<line x1="346.00" y1="230.22" x2="346.00" y2="232.41" stroke="#2a2aff" stroke-width="0.8" />
<line x1="344.70" y1="230.22" x2="347.30" y2="230.22" stroke="#2a2aff" stroke-width="0.8" />
<circle cx="346.27" cy="222.00" r="1.05" fill="#2a2aff"/>
<circle cx="344.85" cy="224.97" r="1.05" fill="#2a2aff"/>
<circle cx="347.18" cy="229.43" r="1.05" fill="#2a2aff"/>
<circle cx="345.26" cy="231.34" r="1.05" fill="#2a2aff"/>
<circle cx="346.73" cy="234.53" r="1.05" fill="#2a2aff"/>
<circle cx="344.87" cy="237.71" r="1.05" fill="#2a2aff"/>
<circle cx="346.70" cy="240.90" r="1.05" fill="#2a2aff"/>
<circle cx="346.47" cy="244.08" r="1.05" fill="#2a2aff"/>
<circle cx="345.29" cy="246.95" r="1.05" fill="#2a2aff"/>
<rect x="350.82" y="219.86" width="4.35" height="34.84" fill="#fff" stroke="#ff2a2a" stroke-width="1.45"/>
<line x1="353.00" y1="217.37" x2="353.00" y2="219.13" stroke="#ff2a2a" stroke-width="0.8" />
<line x1="351.70" y1="217.37" x2="354.30" y2="217.37" stroke="#ff2a2a" stroke-width="0.8" />
<circle cx="353.23" cy="210.22" r="1.05" fill="#ff2a2a"/>
<circle cx="351.94" cy="212.76" r="1.05" fill="#ff2a2a"/>
<circle cx="354.39" cy="215.10" r="1.05" fill="#ff2a2a"/>
<circle cx="352.41" cy="216.59" r="1.05" fill="#ff2a2a"/>
<circle cx="353.74" cy="218.60" r="1.05" fill="#ff2a2a"/>
<circle cx="351.56" cy="221.79" r="1.05" fill="#ff2a2a"/>
<circle cx="353.73" cy="224.97" r="1.05" fill="#ff2a2a"/>
<circle cx="353.52" cy="228.16" r="1.05" fill="#ff2a2a"/>
<circle cx="352.14" cy="230.39" r="1.05" fill="#ff2a2a"/>
<rect x="360.70" y="229.63" width="4.35" height="25.07" fill="#fff" stroke="#2a2aff" stroke-width="1.45"/>
<line x1="362.88" y1="227.66" x2="362.88" y2="228.90" stroke="#2a2aff" stroke-width="0.8" />
<line x1="361.58" y1="227.66" x2="364.18" y2="227.66" stroke="#2a2aff" stroke-width="0.8" />
<circle cx="362.70" cy="222.96" r="1.05" fill="#2a2aff"/>
<circle cx="361.68" cy="225.50" r="1.05" fill="#2a2aff"/>
<circle cx="364.07" cy="228.37" r="1.05" fill="#2a2aff"/>
<circle cx="362.19" cy="230.28" r="1.05" fill="#2a2aff"/>
<circle cx="363.49" cy="231.87" r="1.05" fill="#2a2aff"/>
<circle cx="361.50" cy="233.47" r="1.05" fill="#2a2aff"/>
<circle cx="363.95" cy="235.59" r="1.05" fill="#2a2aff"/>
<circle cx="363.25" cy="237.18" r="1.05" fill="#2a2aff"/>
<rect x="367.70" y="220.71" width="4.35" height="33.99" fill="#fff" stroke="#ff2a2a" stroke-width="1.45"/>
<line x1="369.88" y1="217.53" x2="369.88" y2="219.98" stroke="#ff2a2a" stroke-width="0.8" />
<line x1="368.58" y1="217.53" x2="371.18" y2="217.53" stroke="#ff2a2a" stroke-width="0.8" />
<circle cx="369.85" cy="210.22" r="1.05" fill="#ff2a2a"/>
<circle cx="368.40" cy="212.76" r="1.05" fill="#ff2a2a"/>
<circle cx="370.92" cy="216.48" r="1.05" fill="#ff2a2a"/>
<circle cx="369.09" cy="218.60" r="1.05" fill="#ff2a2a"/>
<circle cx="370.63" cy="220.51" r="1.05" fill="#ff2a2a"/>
<circle cx="368.70" cy="221.79" r="1.05" fill="#ff2a2a"/>
<circle cx="371.06" cy="222.96" r="1.05" fill="#ff2a2a"/>
<circle cx="370.36" cy="238.24" r="1.05" fill="#ff2a2a"/>
<line x1="255.90" y1="190.70" x2="255.90" y2="255.40" stroke="#1a1a1a" stroke-width="1.4" />
<line x1="255.20" y1="254.70" x2="375.88" y2="254.70" stroke="#1a1a1a" stroke-width="1.3" />
<line x1="253.30" y1="254.70" x2="255.90" y2="254.70" stroke="#1a1a1a" stroke-width="1.0" />
<text transform="translate(252.40,256.50) scale(1.2,1)" font-size="5.0" font-weight="bold" text-anchor="end" fill="#000" stroke="#000" stroke-width="0.22" >40</text>
<line x1="253.30" y1="244.08" x2="255.90" y2="244.08" stroke="#1a1a1a" stroke-width="1.0" />
<text transform="translate(252.40,245.88) scale(1.2,1)" font-size="5.0" font-weight="bold" text-anchor="end" fill="#000" stroke="#000" stroke-width="0.22" >50</text>
<line x1="253.30" y1="233.47" x2="255.90" y2="233.47" stroke="#1a1a1a" stroke-width="1.0" />
<text transform="translate(252.40,235.27) scale(1.2,1)" font-size="5.0" font-weight="bold" text-anchor="end" fill="#000" stroke="#000" stroke-width="0.22" >60</text>
<line x1="253.30" y1="222.85" x2="255.90" y2="222.85" stroke="#1a1a1a" stroke-width="1.0" />
<text transform="translate(252.40,224.65) scale(1.2,1)" font-size="5.0" font-weight="bold" text-anchor="end" fill="#000" stroke="#000" stroke-width="0.22" >70</text>
<line x1="253.30" y1="212.23" x2="255.90" y2="212.23" stroke="#1a1a1a" stroke-width="1.0" />
<text transform="translate(252.40,214.03) scale(1.2,1)" font-size="5.0" font-weight="bold" text-anchor="end" fill="#000" stroke="#000" stroke-width="0.22" >80</text>
<line x1="253.30" y1="201.62" x2="255.90" y2="201.62" stroke="#1a1a1a" stroke-width="1.0" />
<text transform="translate(252.40,203.42) scale(1.2,1)" font-size="5.0" font-weight="bold" text-anchor="end" fill="#000" stroke="#000" stroke-width="0.22" >90</text>
<line x1="253.30" y1="191.00" x2="255.90" y2="191.00" stroke="#1a1a1a" stroke-width="1.0" />
<text transform="translate(252.40,192.80) scale(1.2,1)" font-size="5.0" font-weight="bold" text-anchor="end" fill="#000" stroke="#000" stroke-width="0.22" >100</text>
<line x1="265.00" y1="254.70" x2="265.00" y2="257.30" stroke="#1a1a1a" stroke-width="1.0" />
<line x1="281.88" y1="254.70" x2="281.88" y2="257.30" stroke="#1a1a1a" stroke-width="1.0" />
<line x1="298.76" y1="254.70" x2="298.76" y2="257.30" stroke="#1a1a1a" stroke-width="1.0" />
<line x1="315.64" y1="254.70" x2="315.64" y2="257.30" stroke="#1a1a1a" stroke-width="1.0" />
<line x1="332.52" y1="254.70" x2="332.52" y2="257.30" stroke="#1a1a1a" stroke-width="1.0" />
<line x1="349.40" y1="254.70" x2="349.40" y2="257.30" stroke="#1a1a1a" stroke-width="1.0" />
<line x1="366.28" y1="254.70" x2="366.28" y2="257.30" stroke="#1a1a1a" stroke-width="1.0" />
<text transform="translate(237.10,222.20) scale(1.2,1) rotate(-90)" font-size="5.2" font-weight="bold" text-anchor="middle" fill="#000" stroke="#000" stroke-width="0.1" >Percentage (%)</text>
<text transform="translate(267.90,262.70) scale(1.2,1) rotate(-45)" font-size="5.4" font-weight="bold" text-anchor="end" fill="#000" stroke="#000" stroke-width="0.22" >negative control</text>
<text transform="translate(284.78,262.70) scale(1.2,1) rotate(-45)" font-size="5.4" font-weight="bold" text-anchor="end" fill="#000" stroke="#000" stroke-width="0.22" >STR-V003 1 dose</text>
<text transform="translate(301.66,262.70) scale(1.2,1) rotate(-45)" font-size="5.4" font-weight="bold" text-anchor="end" fill="#000" stroke="#000" stroke-width="0.22" >STR-V003 1.5 dose</text>
<text transform="translate(318.54,262.70) scale(1.2,1) rotate(-45)" font-size="5.4" font-weight="bold" text-anchor="end" fill="#000" stroke="#000" stroke-width="0.22" >STR-V003 2 dose</text>
<text transform="translate(335.42,262.70) scale(1.2,1) rotate(-45)" font-size="5.4" font-weight="bold" text-anchor="end" fill="#000" stroke="#000" stroke-width="0.22" >empty LNPs 1 dose</text>
<text transform="translate(352.30,262.70) scale(1.2,1) rotate(-45)" font-size="5.4" font-weight="bold" text-anchor="end" fill="#000" stroke="#000" stroke-width="0.22" >empty LNPs 1.5 dose</text>
<text transform="translate(369.18,262.70) scale(1.2,1) rotate(-45)" font-size="5.4" font-weight="bold" text-anchor="end" fill="#000" stroke="#000" stroke-width="0.22" >empty LNPs 2 dose</text>
<text x="484.05" y="182.80" font-size="6.3" font-weight="bold" text-anchor="middle" fill="#000" stroke="#000" stroke-width="0.2" textLength="16.1" lengthAdjust="spacingAndGlyphs">RBC</text>
<text x="389.80" y="182.70" font-size="12.2" font-weight="bold" text-anchor="start" fill="#000" >d</text>
<circle cx="432.50" cy="195.90" r="0.95" fill="#2a2aff"/>
<text transform="translate(441.20,197.40) scale(1.2,1)" font-size="5.2" font-weight="bold" text-anchor="start" fill="#000" stroke="#000" stroke-width="0.22" >Day 4</text>
<circle cx="466.20" cy="195.90" r="0.95" fill="#ff2a2a"/>
<text transform="translate(474.90,197.40) scale(1.2,1)" font-size="5.2" font-weight="bold" text-anchor="start" fill="#000" stroke="#000" stroke-width="0.22" >Day 32</text>
<rect x="427.82" y="225.79" width="4.35" height="29.21" fill="#fff" stroke="#2a2aff" stroke-width="1.45"/>
<line x1="430.00" y1="223.75" x2="430.00" y2="225.06" stroke="#2a2aff" stroke-width="0.8" />
<line x1="428.70" y1="223.75" x2="431.30" y2="223.75" stroke="#2a2aff" stroke-width="0.8" />
<circle cx="430.27" cy="219.07" r="1.05" fill="#2a2aff"/>
<circle cx="429.07" cy="222.26" r="1.05" fill="#2a2aff"/>
<circle cx="430.93" cy="223.15" r="1.05" fill="#2a2aff"/>
<circle cx="429.15" cy="224.42" r="1.05" fill="#2a2aff"/>
<circle cx="430.90" cy="225.70" r="1.05" fill="#2a2aff"/>
<circle cx="428.74" cy="226.97" r="1.05" fill="#2a2aff"/>
<circle cx="431.10" cy="228.25" r="1.05" fill="#2a2aff"/>
<circle cx="430.18" cy="229.52" r="1.05" fill="#2a2aff"/>
<circle cx="429.16" cy="231.43" r="1.05" fill="#2a2aff"/>
<circle cx="431.36" cy="234.11" r="1.05" fill="#2a2aff"/>
<rect x="434.82" y="213.05" width="4.35" height="41.95" fill="#fff" stroke="#ff2a2a" stroke-width="1.45"/>
<line x1="437.00" y1="211.13" x2="437.00" y2="212.32" stroke="#ff2a2a" stroke-width="0.8" />
<line x1="435.70" y1="211.13" x2="438.30" y2="211.13" stroke="#ff2a2a" stroke-width="0.8" />
<circle cx="437.05" cy="203.15" r="1.05" fill="#ff2a2a"/>
<circle cx="435.60" cy="206.46" r="1.05" fill="#ff2a2a"/>
<circle cx="438.16" cy="210.03" r="1.05" fill="#ff2a2a"/>
<circle cx="436.34" cy="211.81" r="1.05" fill="#ff2a2a"/>
<circle cx="437.83" cy="212.96" r="1.05" fill="#ff2a2a"/>
<circle cx="435.90" cy="214.23" r="1.05" fill="#ff2a2a"/>
<circle cx="438.27" cy="215.51" r="1.05" fill="#ff2a2a"/>
<circle cx="437.33" cy="216.78" r="1.05" fill="#ff2a2a"/>
<rect x="444.70" y="227.70" width="4.35" height="27.30" fill="#fff" stroke="#2a2aff" stroke-width="1.45"/>
<line x1="446.88" y1="225.70" x2="446.88" y2="226.97" stroke="#2a2aff" stroke-width="0.8" />
<line x1="445.58" y1="225.70" x2="448.18" y2="225.70" stroke="#2a2aff" stroke-width="0.8" />
<circle cx="446.85" cy="222.26" r="1.05" fill="#2a2aff"/>
<circle cx="445.54" cy="223.15" r="1.05" fill="#2a2aff"/>
<circle cx="447.80" cy="225.06" r="1.05" fill="#2a2aff"/>
<circle cx="446.00" cy="226.97" r="1.05" fill="#2a2aff"/>
<circle cx="447.56" cy="229.52" r="1.05" fill="#2a2aff"/>
<circle cx="445.37" cy="231.43" r="1.05" fill="#2a2aff"/>
<circle cx="447.81" cy="234.11" r="1.05" fill="#2a2aff"/>
<circle cx="447.42" cy="236.78" r="1.05" fill="#2a2aff"/>
<rect x="451.70" y="219.80" width="4.35" height="35.20" fill="#fff" stroke="#ff2a2a" stroke-width="1.45"/>
<line x1="453.88" y1="217.48" x2="453.88" y2="219.07" stroke="#ff2a2a" stroke-width="0.8" />
<line x1="452.58" y1="217.48" x2="455.18" y2="217.48" stroke="#ff2a2a" stroke-width="0.8" />
<circle cx="453.90" cy="208.63" r="1.05" fill="#ff2a2a"/>
<circle cx="452.72" cy="208.63" r="1.05" fill="#ff2a2a"/>
<circle cx="454.92" cy="213.59" r="1.05" fill="#ff2a2a"/>
<circle cx="452.99" cy="216.40" r="1.05" fill="#ff2a2a"/>
<circle cx="454.48" cy="217.67" r="1.05" fill="#ff2a2a"/>
<circle cx="452.26" cy="219.33" r="1.05" fill="#ff2a2a"/>
<circle cx="454.89" cy="221.88" r="1.05" fill="#ff2a2a"/>
<circle cx="454.48" cy="224.42" r="1.05" fill="#ff2a2a"/>
<circle cx="453.08" cy="226.84" r="1.05" fill="#ff2a2a"/>
<rect x="461.58" y="228.97" width="4.35" height="26.03" fill="#fff" stroke="#2a2aff" stroke-width="1.45"/>
<line x1="463.76" y1="227.42" x2="463.76" y2="228.25" stroke="#2a2aff" stroke-width="0.8" />
<line x1="462.46" y1="227.42" x2="465.06" y2="227.42" stroke="#2a2aff" stroke-width="0.8" />
<circle cx="463.57" cy="226.46" r="1.05" fill="#2a2aff"/>
<circle cx="462.80" cy="227.61" r="1.05" fill="#2a2aff"/>
<circle cx="465.14" cy="228.25" r="1.05" fill="#2a2aff"/>
<circle cx="463.30" cy="229.52" r="1.05" fill="#2a2aff"/>
<circle cx="464.70" cy="230.79" r="1.05" fill="#2a2aff"/>
<circle cx="462.52" cy="232.07" r="1.05" fill="#2a2aff"/>
<circle cx="464.93" cy="233.98" r="1.05" fill="#2a2aff"/>
<circle cx="463.97" cy="235.89" r="1.05" fill="#2a2aff"/>
<rect x="468.58" y="221.58" width="4.35" height="33.42" fill="#fff" stroke="#ff2a2a" stroke-width="1.45"/>
<line x1="470.76" y1="219.94" x2="470.76" y2="220.86" stroke="#ff2a2a" stroke-width="0.8" />
<line x1="469.46" y1="219.94" x2="472.06" y2="219.94" stroke="#ff2a2a" stroke-width="0.8" />
<circle cx="471.05" cy="215.51" r="1.05" fill="#ff2a2a"/>
<circle cx="469.84" cy="216.78" r="1.05" fill="#ff2a2a"/>
<circle cx="471.76" cy="218.05" r="1.05" fill="#ff2a2a"/>
<circle cx="470.31" cy="219.97" r="1.05" fill="#ff2a2a"/>
<circle cx="471.59" cy="221.88" r="1.05" fill="#ff2a2a"/>
<circle cx="469.34" cy="223.79" r="1.05" fill="#ff2a2a"/>
<circle cx="471.78" cy="225.95" r="1.05" fill="#ff2a2a"/>
<rect x="478.46" y="232.03" width="4.35" height="22.97" fill="#fff" stroke="#2a2aff" stroke-width="1.45"/>
<line x1="480.64" y1="229.81" x2="480.64" y2="231.30" stroke="#2a2aff" stroke-width="0.8" />
<line x1="479.34" y1="229.81" x2="481.94" y2="229.81" stroke="#2a2aff" stroke-width="0.8" />
<circle cx="480.63" cy="222.39" r="1.05" fill="#2a2aff"/>
<circle cx="479.69" cy="228.12" r="1.05" fill="#2a2aff"/>
<circle cx="481.84" cy="229.52" r="1.05" fill="#2a2aff"/>
<circle cx="480.24" cy="231.43" r="1.05" fill="#2a2aff"/>
<circle cx="481.25" cy="233.34" r="1.05" fill="#2a2aff"/>
<circle cx="479.47" cy="235.89" r="1.05" fill="#2a2aff"/>
<circle cx="481.88" cy="237.80" r="1.05" fill="#2a2aff"/>
<circle cx="480.92" cy="239.46" r="1.05" fill="#2a2aff"/>
<rect x="485.46" y="223.11" width="4.35" height="31.89" fill="#fff" stroke="#ff2a2a" stroke-width="1.45"/>
<line x1="487.64" y1="221.10" x2="487.64" y2="222.39" stroke="#ff2a2a" stroke-width="0.8" />
<line x1="486.34" y1="221.10" x2="488.94" y2="221.10" stroke="#ff2a2a" stroke-width="0.8" />
<circle cx="487.68" cy="214.74" r="1.05" fill="#ff2a2a"/>
<circle cx="486.69" cy="216.02" r="1.05" fill="#ff2a2a"/>
<circle cx="488.97" cy="219.20" r="1.05" fill="#ff2a2a"/>
<circle cx="487.03" cy="220.60" r="1.05" fill="#ff2a2a"/>
<circle cx="488.17" cy="222.51" r="1.05" fill="#ff2a2a"/>
<circle cx="486.13" cy="224.42" r="1.05" fill="#ff2a2a"/>
<circle cx="488.76" cy="226.97" r="1.05" fill="#ff2a2a"/>
<circle cx="487.74" cy="229.39" r="1.05" fill="#ff2a2a"/>
<rect x="495.34" y="230.25" width="4.35" height="24.75" fill="#fff" stroke="#2a2aff" stroke-width="1.45"/>
<line x1="497.52" y1="228.74" x2="497.52" y2="229.52" stroke="#2a2aff" stroke-width="0.8" />
<line x1="496.22" y1="228.74" x2="498.82" y2="228.74" stroke="#2a2aff" stroke-width="0.8" />
<circle cx="497.76" cy="224.30" r="1.05" fill="#2a2aff"/>
<circle cx="496.18" cy="227.48" r="1.05" fill="#2a2aff"/>
<circle cx="498.97" cy="228.88" r="1.05" fill="#2a2aff"/>
<circle cx="496.81" cy="230.16" r="1.05" fill="#2a2aff"/>
<circle cx="498.49" cy="231.43" r="1.05" fill="#2a2aff"/>
<circle cx="496.24" cy="233.21" r="1.05" fill="#2a2aff"/>
<rect x="502.34" y="216.74" width="4.35" height="38.26" fill="#fff" stroke="#ff2a2a" stroke-width="1.45"/>
<line x1="504.52" y1="214.34" x2="504.52" y2="216.02" stroke="#ff2a2a" stroke-width="0.8" />
<line x1="503.22" y1="214.34" x2="505.82" y2="214.34" stroke="#ff2a2a" stroke-width="0.8" />
<circle cx="504.52" cy="207.73" r="1.05" fill="#ff2a2a"/>
<circle cx="503.33" cy="213.47" r="1.05" fill="#ff2a2a"/>
<circle cx="505.81" cy="215.38" r="1.05" fill="#ff2a2a"/>
<circle cx="503.97" cy="216.78" r="1.05" fill="#ff2a2a"/>
<circle cx="505.11" cy="218.05" r="1.05" fill="#ff2a2a"/>
<circle cx="502.94" cy="219.97" r="1.05" fill="#ff2a2a"/>
<circle cx="505.53" cy="221.88" r="1.05" fill="#ff2a2a"/>
<circle cx="505.08" cy="224.42" r="1.05" fill="#ff2a2a"/>
<circle cx="503.69" cy="226.84" r="1.05" fill="#ff2a2a"/>
<rect x="512.22" y="233.18" width="4.35" height="21.82" fill="#fff" stroke="#2a2aff" stroke-width="1.45"/>
<line x1="514.40" y1="230.61" x2="514.40" y2="232.45" stroke="#2a2aff" stroke-width="0.8" />
<line x1="513.10" y1="230.61" x2="515.70" y2="230.61" stroke="#2a2aff" stroke-width="0.8" />
<circle cx="514.15" cy="222.39" r="1.05" fill="#2a2aff"/>
<circle cx="513.39" cy="229.39" r="1.05" fill="#2a2aff"/>
<circle cx="515.74" cy="231.94" r="1.05" fill="#2a2aff"/>
<circle cx="514.04" cy="233.98" r="1.05" fill="#2a2aff"/>
<circle cx="514.91" cy="235.89" r="1.05" fill="#2a2aff"/>
<circle cx="513.15" cy="238.44" r="1.05" fill="#2a2aff"/>
<circle cx="515.14" cy="240.99" r="1.05" fill="#2a2aff"/>
<circle cx="514.79" cy="243.41" r="1.05" fill="#2a2aff"/>
<rect x="519.23" y="223.75" width="4.35" height="31.25" fill="#fff" stroke="#ff2a2a" stroke-width="1.45"/>
<line x1="521.40" y1="221.58" x2="521.40" y2="223.02" stroke="#ff2a2a" stroke-width="0.8" />
<line x1="520.10" y1="221.58" x2="522.70" y2="221.58" stroke="#ff2a2a" stroke-width="0.8" />
<circle cx="521.26" cy="214.10" r="1.05" fill="#ff2a2a"/>
<circle cx="520.04" cy="217.93" r="1.05" fill="#ff2a2a"/>
<circle cx="522.83" cy="220.47" r="1.05" fill="#ff2a2a"/>
<circle cx="520.56" cy="221.88" r="1.05" fill="#ff2a2a"/>
<circle cx="522.11" cy="223.79" r="1.05" fill="#ff2a2a"/>
<circle cx="520.21" cy="225.70" r="1.05" fill="#ff2a2a"/>
<circle cx="522.25" cy="228.25" r="1.05" fill="#ff2a2a"/>
<circle cx="521.53" cy="230.54" r="1.05" fill="#ff2a2a"/>
<rect x="529.11" y="230.88" width="4.35" height="24.12" fill="#fff" stroke="#2a2aff" stroke-width="1.45"/>
<line x1="531.28" y1="229.32" x2="531.28" y2="230.16" stroke="#2a2aff" stroke-width="0.8" />
<line x1="529.98" y1="229.32" x2="532.58" y2="229.32" stroke="#2a2aff" stroke-width="0.8" />
<circle cx="531.51" cy="227.48" r="1.05" fill="#2a2aff"/>
<circle cx="530.03" cy="228.88" r="1.05" fill="#2a2aff"/>
<circle cx="532.61" cy="230.16" r="1.05" fill="#2a2aff"/>
<circle cx="530.40" cy="231.43" r="1.05" fill="#2a2aff"/>
<circle cx="531.90" cy="233.34" r="1.05" fill="#2a2aff"/>
<circle cx="529.68" cy="235.25" r="1.05" fill="#2a2aff"/>
<circle cx="532.38" cy="237.04" r="1.05" fill="#2a2aff"/>
<rect x="536.11" y="220.56" width="4.35" height="34.44" fill="#fff" stroke="#ff2a2a" stroke-width="1.45"/>
<line x1="538.28" y1="218.05" x2="538.28" y2="219.84" stroke="#ff2a2a" stroke-width="0.8" />
<line x1="536.98" y1="218.05" x2="539.58" y2="218.05" stroke="#ff2a2a" stroke-width="0.8" />
<circle cx="538.03" cy="207.73" r="1.05" fill="#ff2a2a"/>
<circle cx="537.35" cy="213.47" r="1.05" fill="#ff2a2a"/>
<circle cx="539.20" cy="216.65" r="1.05" fill="#ff2a2a"/>
<circle cx="537.82" cy="217.93" r="1.05" fill="#ff2a2a"/>
<circle cx="538.69" cy="219.33" r="1.05" fill="#ff2a2a"/>
<circle cx="536.73" cy="221.24" r="1.05" fill="#ff2a2a"/>
<circle cx="539.47" cy="223.15" r="1.05" fill="#ff2a2a"/>
<circle cx="538.37" cy="225.70" r="1.05" fill="#ff2a2a"/>
<circle cx="537.19" cy="228.12" r="1.05" fill="#ff2a2a"/>
<line x1="424.60" y1="191.00" x2="424.60" y2="255.70" stroke="#1a1a1a" stroke-width="1.4" />
<line x1="423.90" y1="255.00" x2="544.28" y2="255.00" stroke="#1a1a1a" stroke-width="1.3" />
<line x1="422.00" y1="255.00" x2="424.60" y2="255.00" stroke="#1a1a1a" stroke-width="1.0" />
<text transform="translate(421.10,256.80) scale(1.2,1)" font-size="5.0" font-weight="bold" text-anchor="end" fill="#000" stroke="#000" stroke-width="0.22" >5</text>
<line x1="422.00" y1="242.26" x2="424.60" y2="242.26" stroke="#1a1a1a" stroke-width="1.0" />
<text transform="translate(421.10,244.06) scale(1.2,1)" font-size="5.0" font-weight="bold" text-anchor="end" fill="#000" stroke="#000" stroke-width="0.22" >6</text>
<line x1="422.00" y1="229.52" x2="424.60" y2="229.52" stroke="#1a1a1a" stroke-width="1.0" />
<text transform="translate(421.10,231.32) scale(1.2,1)" font-size="5.0" font-weight="bold" text-anchor="end" fill="#000" stroke="#000" stroke-width="0.22" >7</text>
<line x1="422.00" y1="216.78" x2="424.60" y2="216.78" stroke="#1a1a1a" stroke-width="1.0" />
<text transform="translate(421.10,218.58) scale(1.2,1)" font-size="5.0" font-weight="bold" text-anchor="end" fill="#000" stroke="#000" stroke-width="0.22" >8</text>
<line x1="422.00" y1="204.04" x2="424.60" y2="204.04" stroke="#1a1a1a" stroke-width="1.0" />
<text transform="translate(421.10,205.84) scale(1.2,1)" font-size="5.0" font-weight="bold" text-anchor="end" fill="#000" stroke="#000" stroke-width="0.22" >9</text>
<line x1="422.00" y1="191.30" x2="424.60" y2="191.30" stroke="#1a1a1a" stroke-width="1.0" />
<text transform="translate(421.10,193.10) scale(1.2,1)" font-size="5.0" font-weight="bold" text-anchor="end" fill="#000" stroke="#000" stroke-width="0.22" >10</text>
<line x1="433.40" y1="255.00" x2="433.40" y2="257.60" stroke="#1a1a1a" stroke-width="1.0" />
<line x1="450.28" y1="255.00" x2="450.28" y2="257.60" stroke="#1a1a1a" stroke-width="1.0" />
<line x1="467.16" y1="255.00" x2="467.16" y2="257.60" stroke="#1a1a1a" stroke-width="1.0" />
<line x1="484.04" y1="255.00" x2="484.04" y2="257.60" stroke="#1a1a1a" stroke-width="1.0" />
<line x1="500.92" y1="255.00" x2="500.92" y2="257.60" stroke="#1a1a1a" stroke-width="1.0" />
<line x1="517.80" y1="255.00" x2="517.80" y2="257.60" stroke="#1a1a1a" stroke-width="1.0" />
<line x1="534.68" y1="255.00" x2="534.68" y2="257.60" stroke="#1a1a1a" stroke-width="1.0" />
<text transform="translate(408.60,222.20) scale(1.2,1) rotate(-90)" font-size="5.2" font-weight="bold" text-anchor="middle" fill="#000" stroke="#000" stroke-width="0.1" >10^12/L</text>
<text transform="translate(436.30,263.00) scale(1.2,1) rotate(-45)" font-size="5.4" font-weight="bold" text-anchor="end" fill="#000" stroke="#000" stroke-width="0.22" >negative control</text>
<text transform="translate(453.18,263.00) scale(1.2,1) rotate(-45)" font-size="5.4" font-weight="bold" text-anchor="end" fill="#000" stroke="#000" stroke-width="0.22" >STR-V003 1 dose</text>
<text transform="translate(470.06,263.00) scale(1.2,1) rotate(-45)" font-size="5.4" font-weight="bold" text-anchor="end" fill="#000" stroke="#000" stroke-width="0.22" >STR-V003 1.5 dose</text>
<text transform="translate(486.94,263.00) scale(1.2,1) rotate(-45)" font-size="5.4" font-weight="bold" text-anchor="end" fill="#000" stroke="#000" stroke-width="0.22" >STR-V003 2 dose</text>
<text transform="translate(503.82,263.00) scale(1.2,1) rotate(-45)" font-size="5.4" font-weight="bold" text-anchor="end" fill="#000" stroke="#000" stroke-width="0.22" >empty LNPs 1 dose</text>
<text transform="translate(520.70,263.00) scale(1.2,1) rotate(-45)" font-size="5.4" font-weight="bold" text-anchor="end" fill="#000" stroke="#000" stroke-width="0.22" >empty LNPs 1.5 dose</text>
<text transform="translate(537.58,263.00) scale(1.2,1) rotate(-45)" font-size="5.4" font-weight="bold" text-anchor="end" fill="#000" stroke="#000" stroke-width="0.22" >empty LNPs 2 dose</text>
<text x="125.70" y="313.80" font-size="6.3" font-weight="bold" text-anchor="middle" fill="#000" stroke="#000" stroke-width="0.2" textLength="16.6" lengthAdjust="spacingAndGlyphs">Neut</text>
<text x="14.80" y="318.20" font-size="12.2" font-weight="bold" text-anchor="start" fill="#000" >e</text>
<circle cx="75.80" cy="325.50" r="0.95" fill="#2a2aff"/>
<text transform="translate(84.50,327.00) scale(1.2,1)" font-size="5.2" font-weight="bold" text-anchor="start" fill="#000" stroke="#000" stroke-width="0.22" >Day 4</text>
<circle cx="109.00" cy="325.50" r="0.95" fill="#ff2a2a"/>
<text transform="translate(117.70,327.00) scale(1.2,1)" font-size="5.2" font-weight="bold" text-anchor="start" fill="#000" stroke="#000" stroke-width="0.22" >Day 32</text>
<rect x="69.62" y="369.76" width="4.35" height="16.34" fill="#fff" stroke="#2a2aff" stroke-width="1.45"/>
<line x1="71.80" y1="367.65" x2="71.80" y2="369.03" stroke="#2a2aff" stroke-width="0.8" />
<line x1="70.50" y1="367.65" x2="73.10" y2="367.65" stroke="#2a2aff" stroke-width="0.8" />
<circle cx="71.64" cy="363.13" r="1.05" fill="#2a2aff"/>
<circle cx="70.63" cy="365.05" r="1.05" fill="#2a2aff"/>
<circle cx="72.92" cy="368.24" r="1.05" fill="#2a2aff"/>
<circle cx="71.26" cy="369.35" r="1.05" fill="#2a2aff"/>
<circle cx="72.58" cy="370.47" r="1.05" fill="#2a2aff"/>
<circle cx="70.14" cy="371.43" r="1.05" fill="#2a2aff"/>
<circle cx="72.51" cy="372.38" r="1.05" fill="#2a2aff"/>
<circle cx="72.30" cy="375.57" r="1.05" fill="#2a2aff"/>
<circle cx="70.76" cy="378.92" r="1.05" fill="#2a2aff"/>
<rect x="76.62" y="370.72" width="4.35" height="15.38" fill="#fff" stroke="#ff2a2a" stroke-width="1.45"/>
<line x1="78.80" y1="369.11" x2="78.80" y2="369.99" stroke="#ff2a2a" stroke-width="0.8" />
<line x1="77.50" y1="369.11" x2="80.10" y2="369.11" stroke="#ff2a2a" stroke-width="0.8" />
<circle cx="78.64" cy="363.93" r="1.05" fill="#ff2a2a"/>
<circle cx="77.90" cy="366.64" r="1.05" fill="#ff2a2a"/>
<circle cx="79.98" cy="368.24" r="1.05" fill="#ff2a2a"/>
<circle cx="78.40" cy="369.35" r="1.05" fill="#ff2a2a"/>
<circle cx="79.49" cy="370.47" r="1.05" fill="#ff2a2a"/>
<circle cx="77.48" cy="371.75" r="1.05" fill="#ff2a2a"/>
<circle cx="79.59" cy="372.86" r="1.05" fill="#ff2a2a"/>
<circle cx="79.18" cy="373.98" r="1.05" fill="#ff2a2a"/>
<rect x="86.50" y="370.24" width="4.35" height="15.86" fill="#fff" stroke="#2a2aff" stroke-width="1.45"/>
<line x1="88.68" y1="367.66" x2="88.68" y2="369.51" stroke="#2a2aff" stroke-width="0.8" />
<line x1="87.38" y1="367.66" x2="89.98" y2="367.66" stroke="#2a2aff" stroke-width="0.8" />
<circle cx="88.90" cy="358.03" r="1.05" fill="#2a2aff"/>
<circle cx="87.49" cy="362.33" r="1.05" fill="#2a2aff"/>
<circle cx="90.02" cy="364.25" r="1.05" fill="#2a2aff"/>
<circle cx="88.18" cy="367.92" r="1.05" fill="#2a2aff"/>
<circle cx="89.12" cy="369.03" r="1.05" fill="#2a2aff"/>
<circle cx="87.43" cy="370.95" r="1.05" fill="#2a2aff"/>
<circle cx="89.73" cy="372.54" r="1.05" fill="#2a2aff"/>
<circle cx="88.86" cy="373.98" r="1.05" fill="#2a2aff"/>
<circle cx="87.50" cy="379.24" r="1.05" fill="#2a2aff"/>
<rect x="93.50" y="371.51" width="4.35" height="14.59" fill="#fff" stroke="#ff2a2a" stroke-width="1.45"/>
<line x1="95.68" y1="369.87" x2="95.68" y2="370.79" stroke="#ff2a2a" stroke-width="0.8" />
<line x1="94.38" y1="369.87" x2="96.98" y2="369.87" stroke="#ff2a2a" stroke-width="0.8" />
<circle cx="95.90" cy="367.44" r="1.05" fill="#ff2a2a"/>
<circle cx="94.46" cy="367.44" r="1.05" fill="#ff2a2a"/>
<circle cx="97.01" cy="369.99" r="1.05" fill="#ff2a2a"/>
<circle cx="95.31" cy="371.27" r="1.05" fill="#ff2a2a"/>
<circle cx="96.51" cy="372.54" r="1.05" fill="#ff2a2a"/>
<circle cx="94.53" cy="374.14" r="1.05" fill="#ff2a2a"/>
<circle cx="96.62" cy="375.57" r="1.05" fill="#ff2a2a"/>
<circle cx="96.16" cy="377.97" r="1.05" fill="#ff2a2a"/>
<rect x="103.39" y="357.96" width="4.35" height="28.14" fill="#fff" stroke="#2a2aff" stroke-width="1.45"/>
<line x1="105.56" y1="355.71" x2="105.56" y2="357.23" stroke="#2a2aff" stroke-width="0.8" />
<line x1="104.26" y1="355.71" x2="106.86" y2="355.71" stroke="#2a2aff" stroke-width="0.8" />
<circle cx="105.53" cy="350.37" r="1.05" fill="#2a2aff"/>
<circle cx="104.62" cy="351.81" r="1.05" fill="#2a2aff"/>
<circle cx="106.99" cy="353.24" r="1.05" fill="#2a2aff"/>
<circle cx="104.72" cy="354.20" r="1.05" fill="#2a2aff"/>
<circle cx="106.04" cy="356.59" r="1.05" fill="#2a2aff"/>
<circle cx="103.99" cy="358.99" r="1.05" fill="#2a2aff"/>
<circle cx="106.84" cy="362.18" r="1.05" fill="#2a2aff"/>
<circle cx="105.82" cy="365.37" r="1.05" fill="#2a2aff"/>
<circle cx="104.74" cy="367.76" r="1.05" fill="#2a2aff"/>
<rect x="110.39" y="366.89" width="4.35" height="19.21" fill="#fff" stroke="#ff2a2a" stroke-width="1.45"/>
<line x1="112.56" y1="364.82" x2="112.56" y2="366.16" stroke="#ff2a2a" stroke-width="0.8" />
<line x1="111.26" y1="364.82" x2="113.86" y2="364.82" stroke="#ff2a2a" stroke-width="0.8" />
<circle cx="112.44" cy="358.03" r="1.05" fill="#ff2a2a"/>
<circle cx="111.36" cy="360.58" r="1.05" fill="#ff2a2a"/>
<circle cx="113.69" cy="362.49" r="1.05" fill="#ff2a2a"/>
<circle cx="111.87" cy="364.09" r="1.05" fill="#ff2a2a"/>
<circle cx="113.31" cy="366.16" r="1.05" fill="#ff2a2a"/>
<circle cx="111.21" cy="368.56" r="1.05" fill="#ff2a2a"/>
<circle cx="113.80" cy="370.95" r="1.05" fill="#ff2a2a"/>
<circle cx="112.97" cy="373.34" r="1.05" fill="#ff2a2a"/>
<rect x="120.27" y="360.03" width="4.35" height="26.07" fill="#fff" stroke="#2a2aff" stroke-width="1.45"/>
<line x1="122.44" y1="357.24" x2="122.44" y2="359.30" stroke="#2a2aff" stroke-width="0.8" />
<line x1="121.14" y1="357.24" x2="123.74" y2="357.24" stroke="#2a2aff" stroke-width="0.8" />
<circle cx="122.70" cy="347.66" r="1.05" fill="#2a2aff"/>
<circle cx="121.45" cy="348.94" r="1.05" fill="#2a2aff"/>
<circle cx="123.93" cy="356.43" r="1.05" fill="#2a2aff"/>
<circle cx="121.94" cy="358.51" r="1.05" fill="#2a2aff"/>
<circle cx="122.94" cy="360.58" r="1.05" fill="#2a2aff"/>
<circle cx="121.26" cy="362.97" r="1.05" fill="#2a2aff"/>
<circle cx="123.72" cy="365.37" r="1.05" fill="#2a2aff"/>
<circle cx="122.98" cy="366.64" r="1.05" fill="#2a2aff"/>
<circle cx="121.58" cy="371.27" r="1.05" fill="#2a2aff"/>
<rect x="127.27" y="368.16" width="4.35" height="17.94" fill="#fff" stroke="#ff2a2a" stroke-width="1.45"/>
<line x1="129.44" y1="366.21" x2="129.44" y2="367.44" stroke="#ff2a2a" stroke-width="0.8" />
<line x1="128.14" y1="366.21" x2="130.74" y2="366.21" stroke="#ff2a2a" stroke-width="0.8" />
<circle cx="129.57" cy="361.54" r="1.05" fill="#ff2a2a"/>
<circle cx="128.07" cy="362.97" r="1.05" fill="#ff2a2a"/>
<circle cx="130.84" cy="365.52" r="1.05" fill="#ff2a2a"/>
<circle cx="128.88" cy="367.28" r="1.05" fill="#ff2a2a"/>
<circle cx="130.01" cy="368.87" r="1.05" fill="#ff2a2a"/>
<circle cx="127.78" cy="370.15" r="1.05" fill="#ff2a2a"/>
<circle cx="130.65" cy="371.75" r="1.05" fill="#ff2a2a"/>
<circle cx="130.03" cy="375.57" r="1.05" fill="#ff2a2a"/>
<rect x="137.14" y="359.23" width="4.35" height="26.87" fill="#fff" stroke="#2a2aff" stroke-width="1.45"/>
<line x1="139.32" y1="356.45" x2="139.32" y2="358.51" stroke="#2a2aff" stroke-width="0.8" />
<line x1="138.02" y1="356.45" x2="140.62" y2="356.45" stroke="#2a2aff" stroke-width="0.8" />
<circle cx="139.07" cy="349.57" r="1.05" fill="#2a2aff"/>
<circle cx="138.30" cy="351.49" r="1.05" fill="#2a2aff"/>
<circle cx="140.47" cy="353.40" r="1.05" fill="#2a2aff"/>
<circle cx="138.51" cy="357.87" r="1.05" fill="#2a2aff"/>
<circle cx="139.90" cy="359.78" r="1.05" fill="#2a2aff"/>
<circle cx="138.08" cy="362.18" r="1.05" fill="#2a2aff"/>
<circle cx="140.54" cy="364.57" r="1.05" fill="#2a2aff"/>
<circle cx="139.35" cy="368.08" r="1.05" fill="#2a2aff"/>
<circle cx="138.49" cy="373.02" r="1.05" fill="#2a2aff"/>
<rect x="144.14" y="369.28" width="4.35" height="16.82" fill="#fff" stroke="#ff2a2a" stroke-width="1.45"/>
<line x1="146.32" y1="366.95" x2="146.32" y2="368.56" stroke="#ff2a2a" stroke-width="0.8" />
<line x1="145.02" y1="366.95" x2="147.62" y2="366.95" stroke="#ff2a2a" stroke-width="0.8" />
<circle cx="146.05" cy="359.78" r="1.05" fill="#ff2a2a"/>
<circle cx="145.25" cy="363.45" r="1.05" fill="#ff2a2a"/>
<circle cx="147.42" cy="364.73" r="1.05" fill="#ff2a2a"/>
<circle cx="145.95" cy="368.08" r="1.05" fill="#ff2a2a"/>
<circle cx="147.31" cy="370.15" r="1.05" fill="#ff2a2a"/>
<circle cx="144.92" cy="372.54" r="1.05" fill="#ff2a2a"/>
<circle cx="147.62" cy="374.94" r="1.05" fill="#ff2a2a"/>
<circle cx="146.51" cy="378.12" r="1.05" fill="#ff2a2a"/>
<rect x="154.02" y="344.56" width="4.35" height="41.54" fill="#fff" stroke="#2a2aff" stroke-width="1.45"/>
<line x1="156.20" y1="341.38" x2="156.20" y2="343.83" stroke="#2a2aff" stroke-width="0.8" />
<line x1="154.90" y1="341.38" x2="157.50" y2="341.38" stroke="#2a2aff" stroke-width="0.8" />
<circle cx="155.95" cy="329.16" r="1.05" fill="#2a2aff"/>
<circle cx="155.06" cy="329.48" r="1.05" fill="#2a2aff"/>
<circle cx="157.12" cy="329.80" r="1.05" fill="#2a2aff"/>
<circle cx="155.42" cy="340.64" r="1.05" fill="#2a2aff"/>
<circle cx="156.84" cy="342.56" r="1.05" fill="#2a2aff"/>
<circle cx="154.87" cy="344.63" r="1.05" fill="#2a2aff"/>
<circle cx="156.99" cy="347.02" r="1.05" fill="#2a2aff"/>
<circle cx="156.23" cy="349.42" r="1.05" fill="#2a2aff"/>
<circle cx="155.52" cy="351.49" r="1.05" fill="#2a2aff"/>
<circle cx="157.39" cy="357.23" r="1.05" fill="#2a2aff"/>
<rect x="161.02" y="361.15" width="4.35" height="24.95" fill="#fff" stroke="#ff2a2a" stroke-width="1.45"/>
<line x1="163.20" y1="358.09" x2="163.20" y2="360.42" stroke="#ff2a2a" stroke-width="0.8" />
<line x1="161.90" y1="358.09" x2="164.50" y2="358.09" stroke="#ff2a2a" stroke-width="0.8" />
<circle cx="163.48" cy="347.02" r="1.05" fill="#ff2a2a"/>
<circle cx="162.24" cy="349.57" r="1.05" fill="#ff2a2a"/>
<circle cx="164.33" cy="353.40" r="1.05" fill="#ff2a2a"/>
<circle cx="162.58" cy="356.43" r="1.05" fill="#ff2a2a"/>
<circle cx="163.91" cy="359.78" r="1.05" fill="#ff2a2a"/>
<circle cx="161.89" cy="362.18" r="1.05" fill="#ff2a2a"/>
<circle cx="164.26" cy="364.57" r="1.05" fill="#ff2a2a"/>
<circle cx="163.54" cy="366.96" r="1.05" fill="#ff2a2a"/>
<circle cx="162.37" cy="369.35" r="1.05" fill="#ff2a2a"/>
<circle cx="164.76" cy="373.66" r="1.05" fill="#ff2a2a"/>
<rect x="170.91" y="349.98" width="4.35" height="36.12" fill="#fff" stroke="#2a2aff" stroke-width="1.45"/>
<line x1="173.08" y1="347.59" x2="173.08" y2="349.26" stroke="#2a2aff" stroke-width="0.8" />
<line x1="171.78" y1="347.59" x2="174.38" y2="347.59" stroke="#2a2aff" stroke-width="0.8" />
<circle cx="173.08" cy="342.56" r="1.05" fill="#2a2aff"/>
<circle cx="171.84" cy="344.47" r="1.05" fill="#2a2aff"/>
<circle cx="174.41" cy="348.30" r="1.05" fill="#2a2aff"/>
<circle cx="172.32" cy="350.21" r="1.05" fill="#2a2aff"/>
<circle cx="173.66" cy="351.81" r="1.05" fill="#2a2aff"/>
<circle cx="171.97" cy="353.40" r="1.05" fill="#2a2aff"/>
<circle cx="174.09" cy="355.00" r="1.05" fill="#2a2aff"/>
<circle cx="173.41" cy="356.43" r="1.05" fill="#2a2aff"/>
<circle cx="171.89" cy="361.54" r="1.05" fill="#2a2aff"/>
<rect x="177.91" y="363.70" width="4.35" height="22.40" fill="#fff" stroke="#ff2a2a" stroke-width="1.45"/>
<line x1="180.08" y1="360.14" x2="180.08" y2="362.97" stroke="#ff2a2a" stroke-width="0.8" />
<line x1="178.78" y1="360.14" x2="181.38" y2="360.14" stroke="#ff2a2a" stroke-width="0.8" />
<circle cx="180.03" cy="344.47" r="1.05" fill="#ff2a2a"/>
<circle cx="178.93" cy="353.40" r="1.05" fill="#ff2a2a"/>
<circle cx="180.99" cy="354.68" r="1.05" fill="#ff2a2a"/>
<circle cx="179.55" cy="359.78" r="1.05" fill="#ff2a2a"/>
<circle cx="180.86" cy="362.97" r="1.05" fill="#ff2a2a"/>
<circle cx="178.42" cy="366.16" r="1.05" fill="#ff2a2a"/>
<circle cx="181.16" cy="369.35" r="1.05" fill="#ff2a2a"/>
<circle cx="180.36" cy="372.54" r="1.05" fill="#ff2a2a"/>
<circle cx="179.29" cy="376.85" r="1.05" fill="#ff2a2a"/>
<line x1="66.10" y1="322.00" x2="66.10" y2="386.80" stroke="#1a1a1a" stroke-width="1.4" />
<line x1="65.40" y1="386.10" x2="186.08" y2="386.10" stroke="#1a1a1a" stroke-width="1.3" />
<line x1="63.50" y1="386.10" x2="66.10" y2="386.10" stroke="#1a1a1a" stroke-width="1.0" />
<text transform="translate(62.60,387.90) scale(1.2,1)" font-size="5.0" font-weight="bold" text-anchor="end" fill="#000" stroke="#000" stroke-width="0.22" >0</text>
<line x1="63.50" y1="370.15" x2="66.10" y2="370.15" stroke="#1a1a1a" stroke-width="1.0" />
<text transform="translate(62.60,371.95) scale(1.2,1)" font-size="5.0" font-weight="bold" text-anchor="end" fill="#000" stroke="#000" stroke-width="0.22" >10</text>
<line x1="63.50" y1="354.20" x2="66.10" y2="354.20" stroke="#1a1a1a" stroke-width="1.0" />
<text transform="translate(62.60,356.00) scale(1.2,1)" font-size="5.0" font-weight="bold" text-anchor="end" fill="#000" stroke="#000" stroke-width="0.22" >20</text>
<line x1="63.50" y1="338.25" x2="66.10" y2="338.25" stroke="#1a1a1a" stroke-width="1.0" />
<text transform="translate(62.60,340.05) scale(1.2,1)" font-size="5.0" font-weight="bold" text-anchor="end" fill="#000" stroke="#000" stroke-width="0.22" >30</text>
<line x1="63.50" y1="322.30" x2="66.10" y2="322.30" stroke="#1a1a1a" stroke-width="1.0" />
<text transform="translate(62.60,324.10) scale(1.2,1)" font-size="5.0" font-weight="bold" text-anchor="end" fill="#000" stroke="#000" stroke-width="0.22" >40</text>
<line x1="75.20" y1="386.10" x2="75.20" y2="388.70" stroke="#1a1a1a" stroke-width="1.0" />
<line x1="92.08" y1="386.10" x2="92.08" y2="388.70" stroke="#1a1a1a" stroke-width="1.0" />
<line x1="108.96" y1="386.10" x2="108.96" y2="388.70" stroke="#1a1a1a" stroke-width="1.0" />
<line x1="125.84" y1="386.10" x2="125.84" y2="388.70" stroke="#1a1a1a" stroke-width="1.0" />
<line x1="142.72" y1="386.10" x2="142.72" y2="388.70" stroke="#1a1a1a" stroke-width="1.0" />
<line x1="159.60" y1="386.10" x2="159.60" y2="388.70" stroke="#1a1a1a" stroke-width="1.0" />
<line x1="176.48" y1="386.10" x2="176.48" y2="388.70" stroke="#1a1a1a" stroke-width="1.0" />
<text transform="translate(49.80,354.00) scale(1.2,1) rotate(-90)" font-size="5.2" font-weight="bold" text-anchor="middle" fill="#000" stroke="#000" stroke-width="0.1" >Percentage (%)</text>
<text transform="translate(78.10,394.10) scale(1.2,1) rotate(-45)" font-size="5.4" font-weight="bold" text-anchor="end" fill="#000" stroke="#000" stroke-width="0.22" >negative control</text>
<text transform="translate(94.98,394.10) scale(1.2,1) rotate(-45)" font-size="5.4" font-weight="bold" text-anchor="end" fill="#000" stroke="#000" stroke-width="0.22" >STR-V003 1 dose</text>
<text transform="translate(111.86,394.10) scale(1.2,1) rotate(-45)" font-size="5.4" font-weight="bold" text-anchor="end" fill="#000" stroke="#000" stroke-width="0.22" >STR-V003 1.5 dose</text>
<text transform="translate(128.74,394.10) scale(1.2,1) rotate(-45)" font-size="5.4" font-weight="bold" text-anchor="end" fill="#000" stroke="#000" stroke-width="0.22" >STR-V003 2 dose</text>
<text transform="translate(145.62,394.10) scale(1.2,1) rotate(-45)" font-size="5.4" font-weight="bold" text-anchor="end" fill="#000" stroke="#000" stroke-width="0.22" >empty LNPs 1 dose</text>
<text transform="translate(162.50,394.10) scale(1.2,1) rotate(-45)" font-size="5.4" font-weight="bold" text-anchor="end" fill="#000" stroke="#000" stroke-width="0.22" >empty LNPs 1.5 dose</text>
<text transform="translate(179.38,394.10) scale(1.2,1) rotate(-45)" font-size="5.4" font-weight="bold" text-anchor="end" fill="#000" stroke="#000" stroke-width="0.22" >empty LNPs 2 dose</text>
<text x="315.40" y="313.20" font-size="6.3" font-weight="bold" text-anchor="middle" fill="#000" stroke="#000" stroke-width="0.2" textLength="12.8" lengthAdjust="spacingAndGlyphs">PLT</text>
<text x="214.50" y="317.50" font-size="12.2" font-weight="bold" text-anchor="start" fill="#000" >f</text>
<circle cx="264.90" cy="325.50" r="0.95" fill="#2a2aff"/>
<text transform="translate(273.60,327.00) scale(1.2,1)" font-size="5.2" font-weight="bold" text-anchor="start" fill="#000" stroke="#000" stroke-width="0.22" >Day 4</text>
<circle cx="299.90" cy="325.50" r="0.95" fill="#ff2a2a"/>
<text transform="translate(308.60,327.00) scale(1.2,1)" font-size="5.2" font-weight="bold" text-anchor="start" fill="#000" stroke="#000" stroke-width="0.22" >Day 32</text>
<rect x="258.73" y="347.03" width="4.35" height="38.47" fill="#fff" stroke="#2a2aff" stroke-width="1.45"/>
<line x1="260.90" y1="345.29" x2="260.90" y2="346.30" stroke="#2a2aff" stroke-width="0.8" />
<line x1="259.60" y1="345.29" x2="262.20" y2="345.29" stroke="#2a2aff" stroke-width="0.8" />
<circle cx="260.74" cy="340.78" r="1.05" fill="#2a2aff"/>
<circle cx="259.46" cy="342.18" r="1.05" fill="#2a2aff"/>
<circle cx="262.04" cy="345.70" r="1.05" fill="#2a2aff"/>
<circle cx="260.09" cy="347.10" r="1.05" fill="#2a2aff"/>
<circle cx="261.34" cy="348.30" r="1.05" fill="#2a2aff"/>
<circle cx="259.44" cy="349.50" r="1.05" fill="#2a2aff"/>
<circle cx="262.15" cy="350.70" r="1.05" fill="#2a2aff"/>
<circle cx="261.38" cy="352.30" r="1.05" fill="#2a2aff"/>
<rect x="265.73" y="347.50" width="4.35" height="38.00" fill="#fff" stroke="#ff2a2a" stroke-width="1.45"/>
<line x1="267.90" y1="345.58" x2="267.90" y2="346.78" stroke="#ff2a2a" stroke-width="0.8" />
<line x1="266.60" y1="345.58" x2="269.20" y2="345.58" stroke="#ff2a2a" stroke-width="0.8" />
<circle cx="268.06" cy="340.78" r="1.05" fill="#ff2a2a"/>
<circle cx="266.53" cy="345.18" r="1.05" fill="#ff2a2a"/>
<circle cx="269.12" cy="346.30" r="1.05" fill="#ff2a2a"/>
<circle cx="267.17" cy="347.90" r="1.05" fill="#ff2a2a"/>
<circle cx="268.40" cy="349.50" r="1.05" fill="#ff2a2a"/>
<circle cx="266.26" cy="351.10" r="1.05" fill="#ff2a2a"/>
<circle cx="268.73" cy="352.70" r="1.05" fill="#ff2a2a"/>
<circle cx="268.46" cy="354.50" r="1.05" fill="#ff2a2a"/>
<rect x="275.61" y="343.23" width="4.35" height="42.27" fill="#fff" stroke="#2a2aff" stroke-width="1.45"/>
<line x1="277.78" y1="341.43" x2="277.78" y2="342.50" stroke="#2a2aff" stroke-width="0.8" />
<line x1="276.48" y1="341.43" x2="279.08" y2="341.43" stroke="#2a2aff" stroke-width="0.8" />
<circle cx="277.98" cy="335.70" r="1.05" fill="#2a2aff"/>
<circle cx="276.76" cy="335.90" r="1.05" fill="#2a2aff"/>
<circle cx="279.16" cy="340.30" r="1.05" fill="#2a2aff"/>
<circle cx="277.00" cy="341.38" r="1.05" fill="#2a2aff"/>
<circle cx="278.37" cy="342.50" r="1.05" fill="#2a2aff"/>
<circle cx="276.46" cy="343.90" r="1.05" fill="#2a2aff"/>
<circle cx="278.92" cy="345.50" r="1.05" fill="#2a2aff"/>
<circle cx="278.29" cy="346.70" r="1.05" fill="#2a2aff"/>
<circle cx="277.11" cy="347.90" r="1.05" fill="#2a2aff"/>
<rect x="282.61" y="343.71" width="4.35" height="41.79" fill="#fff" stroke="#ff2a2a" stroke-width="1.45"/>
<line x1="284.78" y1="342.22" x2="284.78" y2="342.98" stroke="#ff2a2a" stroke-width="0.8" />
<line x1="283.48" y1="342.22" x2="286.08" y2="342.22" stroke="#ff2a2a" stroke-width="0.8" />
<circle cx="284.53" cy="342.50" r="1.05" fill="#ff2a2a"/>
<circle cx="283.64" cy="343.10" r="1.05" fill="#ff2a2a"/>
<circle cx="286.08" cy="343.90" r="1.05" fill="#ff2a2a"/>
<circle cx="284.18" cy="345.10" r="1.05" fill="#ff2a2a"/>
<circle cx="285.29" cy="346.30" r="1.05" fill="#ff2a2a"/>
<circle cx="283.36" cy="347.50" r="1.05" fill="#ff2a2a"/>
<circle cx="285.53" cy="348.70" r="1.05" fill="#ff2a2a"/>
<circle cx="285.34" cy="349.90" r="1.05" fill="#ff2a2a"/>
<circle cx="284.10" cy="351.18" r="1.05" fill="#ff2a2a"/>
<rect x="292.49" y="346.43" width="4.35" height="39.08" fill="#fff" stroke="#2a2aff" stroke-width="1.45"/>
<line x1="294.66" y1="344.89" x2="294.66" y2="345.70" stroke="#2a2aff" stroke-width="0.8" />
<line x1="293.36" y1="344.89" x2="295.96" y2="344.89" stroke="#2a2aff" stroke-width="0.8" />
<circle cx="294.69" cy="341.90" r="1.05" fill="#2a2aff"/>
<circle cx="293.34" cy="344.10" r="1.05" fill="#2a2aff"/>
<circle cx="296.11" cy="345.50" r="1.05" fill="#2a2aff"/>
<circle cx="294.10" cy="346.70" r="1.05" fill="#2a2aff"/>
<circle cx="295.59" cy="347.90" r="1.05" fill="#2a2aff"/>
<circle cx="293.47" cy="349.10" r="1.05" fill="#2a2aff"/>
<circle cx="295.67" cy="350.30" r="1.05" fill="#2a2aff"/>
<circle cx="294.91" cy="351.18" r="1.05" fill="#2a2aff"/>
<rect x="299.49" y="345.91" width="4.35" height="39.59" fill="#fff" stroke="#ff2a2a" stroke-width="1.45"/>
<line x1="301.66" y1="343.82" x2="301.66" y2="345.18" stroke="#ff2a2a" stroke-width="0.8" />
<line x1="300.36" y1="343.82" x2="302.96" y2="343.82" stroke="#ff2a2a" stroke-width="0.8" />
<circle cx="301.72" cy="336.78" r="1.05" fill="#ff2a2a"/>
<circle cx="300.42" cy="344.10" r="1.05" fill="#ff2a2a"/>
<circle cx="302.66" cy="345.10" r="1.05" fill="#ff2a2a"/>
<circle cx="300.94" cy="346.30" r="1.05" fill="#ff2a2a"/>
<circle cx="302.55" cy="347.50" r="1.05" fill="#ff2a2a"/>
<circle cx="299.99" cy="348.70" r="1.05" fill="#ff2a2a"/>
<circle cx="302.39" cy="350.30" r="1.05" fill="#ff2a2a"/>
<circle cx="302.04" cy="352.30" r="1.05" fill="#ff2a2a"/>
<rect x="309.37" y="349.23" width="4.35" height="36.27" fill="#fff" stroke="#2a2aff" stroke-width="1.45"/>
<line x1="311.54" y1="346.11" x2="311.54" y2="348.50" stroke="#2a2aff" stroke-width="0.8" />
<line x1="310.24" y1="346.11" x2="312.84" y2="346.11" stroke="#2a2aff" stroke-width="0.8" />
<circle cx="311.41" cy="332.58" r="1.05" fill="#2a2aff"/>
<circle cx="310.36" cy="344.58" r="1.05" fill="#2a2aff"/>
<circle cx="312.72" cy="346.78" r="1.05" fill="#2a2aff"/>
<circle cx="310.85" cy="348.30" r="1.05" fill="#2a2aff"/>
<circle cx="312.54" cy="350.30" r="1.05" fill="#2a2aff"/>
<circle cx="309.96" cy="352.30" r="1.05" fill="#2a2aff"/>
<circle cx="312.49" cy="355.10" r="1.05" fill="#2a2aff"/>
<circle cx="311.66" cy="357.50" r="1.05" fill="#2a2aff"/>
<circle cx="310.72" cy="359.90" r="1.05" fill="#2a2aff"/>
<rect x="316.37" y="350.91" width="4.35" height="34.59" fill="#fff" stroke="#ff2a2a" stroke-width="1.45"/>
<line x1="318.54" y1="348.97" x2="318.54" y2="350.18" stroke="#ff2a2a" stroke-width="0.8" />
<line x1="317.24" y1="348.97" x2="319.84" y2="348.97" stroke="#ff2a2a" stroke-width="0.8" />
<circle cx="318.41" cy="345.98" r="1.05" fill="#ff2a2a"/>
<circle cx="317.25" cy="347.18" r="1.05" fill="#ff2a2a"/>
<circle cx="319.89" cy="348.98" r="1.05" fill="#ff2a2a"/>
<circle cx="317.83" cy="350.30" r="1.05" fill="#ff2a2a"/>
<circle cx="319.28" cy="351.50" r="1.05" fill="#ff2a2a"/>
<circle cx="317.38" cy="353.50" r="1.05" fill="#ff2a2a"/>
<circle cx="319.30" cy="355.90" r="1.05" fill="#ff2a2a"/>
<circle cx="318.58" cy="357.90" r="1.05" fill="#ff2a2a"/>
<circle cx="317.48" cy="359.78" r="1.05" fill="#ff2a2a"/>
<rect x="326.25" y="344.71" width="4.35" height="40.79" fill="#fff" stroke="#2a2aff" stroke-width="1.45"/>
<line x1="328.42" y1="342.82" x2="328.42" y2="343.98" stroke="#2a2aff" stroke-width="0.8" />
<line x1="327.12" y1="342.82" x2="329.72" y2="342.82" stroke="#2a2aff" stroke-width="0.8" />
<circle cx="328.58" cy="337.58" r="1.05" fill="#2a2aff"/>
<circle cx="327.29" cy="339.98" r="1.05" fill="#2a2aff"/>
<circle cx="329.46" cy="341.78" r="1.05" fill="#2a2aff"/>
<circle cx="327.72" cy="342.98" r="1.05" fill="#2a2aff"/>
<circle cx="328.93" cy="344.30" r="1.05" fill="#2a2aff"/>
<circle cx="327.00" cy="345.90" r="1.05" fill="#2a2aff"/>
<circle cx="329.15" cy="347.50" r="1.05" fill="#2a2aff"/>
<circle cx="328.84" cy="349.10" r="1.05" fill="#2a2aff"/>
<circle cx="327.76" cy="350.78" r="1.05" fill="#2a2aff"/>
<rect x="333.25" y="344.91" width="4.35" height="40.59" fill="#fff" stroke="#ff2a2a" stroke-width="1.45"/>
<line x1="335.42" y1="342.69" x2="335.42" y2="344.18" stroke="#ff2a2a" stroke-width="0.8" />
<line x1="334.12" y1="342.69" x2="336.72" y2="342.69" stroke="#ff2a2a" stroke-width="0.8" />
<circle cx="335.69" cy="336.78" r="1.05" fill="#ff2a2a"/>
<circle cx="334.36" cy="340.58" r="1.05" fill="#ff2a2a"/>
<circle cx="336.90" cy="341.78" r="1.05" fill="#ff2a2a"/>
<circle cx="334.53" cy="342.98" r="1.05" fill="#ff2a2a"/>
<circle cx="335.99" cy="344.30" r="1.05" fill="#ff2a2a"/>
<circle cx="334.30" cy="346.30" r="1.05" fill="#ff2a2a"/>
<circle cx="336.59" cy="348.30" r="1.05" fill="#ff2a2a"/>
<circle cx="335.67" cy="350.70" r="1.05" fill="#ff2a2a"/>
<circle cx="334.79" cy="353.78" r="1.05" fill="#ff2a2a"/>
<rect x="343.12" y="346.71" width="4.35" height="38.79" fill="#fff" stroke="#2a2aff" stroke-width="1.45"/>
<line x1="345.30" y1="345.09" x2="345.30" y2="345.98" stroke="#2a2aff" stroke-width="0.8" />
<line x1="344.00" y1="345.09" x2="346.60" y2="345.09" stroke="#2a2aff" stroke-width="0.8" />
<circle cx="345.37" cy="342.38" r="1.05" fill="#2a2aff"/>
<circle cx="344.29" cy="344.18" r="1.05" fill="#2a2aff"/>
<circle cx="346.38" cy="345.50" r="1.05" fill="#2a2aff"/>
<circle cx="344.51" cy="346.70" r="1.05" fill="#2a2aff"/>
<circle cx="345.97" cy="348.30" r="1.05" fill="#2a2aff"/>
<circle cx="343.68" cy="349.90" r="1.05" fill="#2a2aff"/>
<circle cx="346.23" cy="351.50" r="1.05" fill="#2a2aff"/>
<circle cx="345.88" cy="352.58" r="1.05" fill="#2a2aff"/>
<rect x="350.12" y="344.31" width="4.35" height="41.20" fill="#fff" stroke="#ff2a2a" stroke-width="1.45"/>
<line x1="352.30" y1="342.27" x2="352.30" y2="343.58" stroke="#ff2a2a" stroke-width="0.8" />
<line x1="351.00" y1="342.27" x2="353.60" y2="342.27" stroke="#ff2a2a" stroke-width="0.8" />
<circle cx="352.20" cy="337.58" r="1.05" fill="#ff2a2a"/>
<circle cx="350.81" cy="337.90" r="1.05" fill="#ff2a2a"/>
<circle cx="353.23" cy="341.18" r="1.05" fill="#ff2a2a"/>
<circle cx="351.50" cy="342.98" r="1.05" fill="#ff2a2a"/>
<circle cx="353.17" cy="344.30" r="1.05" fill="#ff2a2a"/>
<circle cx="350.82" cy="345.90" r="1.05" fill="#ff2a2a"/>
<circle cx="353.17" cy="347.50" r="1.05" fill="#ff2a2a"/>
<circle cx="352.36" cy="349.50" r="1.05" fill="#ff2a2a"/>
<circle cx="351.69" cy="352.58" r="1.05" fill="#ff2a2a"/>
<rect x="360.01" y="346.11" width="4.35" height="39.40" fill="#fff" stroke="#2a2aff" stroke-width="1.45"/>
<line x1="362.18" y1="344.38" x2="362.18" y2="345.38" stroke="#2a2aff" stroke-width="0.8" />
<line x1="360.88" y1="344.38" x2="363.48" y2="344.38" stroke="#2a2aff" stroke-width="0.8" />
<circle cx="362.13" cy="341.18" r="1.05" fill="#2a2aff"/>
<circle cx="360.80" cy="342.98" r="1.05" fill="#2a2aff"/>
<circle cx="363.12" cy="344.18" r="1.05" fill="#2a2aff"/>
<circle cx="361.31" cy="345.50" r="1.05" fill="#2a2aff"/>
<circle cx="362.68" cy="347.10" r="1.05" fill="#2a2aff"/>
<circle cx="360.89" cy="348.70" r="1.05" fill="#2a2aff"/>
<circle cx="362.97" cy="350.70" r="1.05" fill="#2a2aff"/>
<circle cx="362.20" cy="352.58" r="1.05" fill="#2a2aff"/>
<rect x="367.01" y="347.31" width="4.35" height="38.20" fill="#fff" stroke="#ff2a2a" stroke-width="1.45"/>
<line x1="369.18" y1="345.11" x2="369.18" y2="346.58" stroke="#ff2a2a" stroke-width="0.8" />
<line x1="367.88" y1="345.11" x2="370.48" y2="345.11" stroke="#ff2a2a" stroke-width="0.8" />
<circle cx="369.17" cy="338.18" r="1.05" fill="#ff2a2a"/>
<circle cx="367.83" cy="342.38" r="1.05" fill="#ff2a2a"/>
<circle cx="370.68" cy="343.58" r="1.05" fill="#ff2a2a"/>
<circle cx="368.35" cy="345.38" r="1.05" fill="#ff2a2a"/>
<circle cx="369.90" cy="346.70" r="1.05" fill="#ff2a2a"/>
<circle cx="367.94" cy="348.30" r="1.05" fill="#ff2a2a"/>
<circle cx="370.13" cy="350.30" r="1.05" fill="#ff2a2a"/>
<circle cx="369.77" cy="352.70" r="1.05" fill="#ff2a2a"/>
<circle cx="368.27" cy="354.98" r="1.05" fill="#ff2a2a"/>
<line x1="255.60" y1="321.20" x2="255.60" y2="386.20" stroke="#1a1a1a" stroke-width="1.4" />
<line x1="254.90" y1="385.50" x2="375.18" y2="385.50" stroke="#1a1a1a" stroke-width="1.3" />
<line x1="253.00" y1="385.50" x2="255.60" y2="385.50" stroke="#1a1a1a" stroke-width="1.0" />
<text transform="translate(252.10,387.30) scale(1.2,1)" font-size="5.0" font-weight="bold" text-anchor="end" fill="#000" stroke="#000" stroke-width="0.22" >0</text>
<line x1="253.00" y1="365.50" x2="255.60" y2="365.50" stroke="#1a1a1a" stroke-width="1.0" />
<text transform="translate(252.10,367.30) scale(1.2,1)" font-size="5.0" font-weight="bold" text-anchor="end" fill="#000" stroke="#000" stroke-width="0.22" >500</text>
<line x1="253.00" y1="345.50" x2="255.60" y2="345.50" stroke="#1a1a1a" stroke-width="1.0" />
<text transform="translate(252.10,347.30) scale(1.2,1)" font-size="5.0" font-weight="bold" text-anchor="end" fill="#000" stroke="#000" stroke-width="0.22" >1000</text>
<line x1="253.00" y1="325.50" x2="255.60" y2="325.50" stroke="#1a1a1a" stroke-width="1.0" />
<text transform="translate(252.10,327.30) scale(1.2,1)" font-size="5.0" font-weight="bold" text-anchor="end" fill="#000" stroke="#000" stroke-width="0.22" >1500</text>
<line x1="264.30" y1="385.50" x2="264.30" y2="388.10" stroke="#1a1a1a" stroke-width="1.0" />
<line x1="281.18" y1="385.50" x2="281.18" y2="388.10" stroke="#1a1a1a" stroke-width="1.0" />
<line x1="298.06" y1="385.50" x2="298.06" y2="388.10" stroke="#1a1a1a" stroke-width="1.0" />
<line x1="314.94" y1="385.50" x2="314.94" y2="388.10" stroke="#1a1a1a" stroke-width="1.0" />
<line x1="331.82" y1="385.50" x2="331.82" y2="388.10" stroke="#1a1a1a" stroke-width="1.0" />
<line x1="348.70" y1="385.50" x2="348.70" y2="388.10" stroke="#1a1a1a" stroke-width="1.0" />
<line x1="365.58" y1="385.50" x2="365.58" y2="388.10" stroke="#1a1a1a" stroke-width="1.0" />
<text transform="translate(232.60,353.10) scale(1.2,1) rotate(-90)" font-size="5.2" font-weight="bold" text-anchor="middle" fill="#000" stroke="#000" stroke-width="0.1" >10^9/L</text>
<text transform="translate(267.20,393.50) scale(1.2,1) rotate(-45)" font-size="5.4" font-weight="bold" text-anchor="end" fill="#000" stroke="#000" stroke-width="0.22" >negative control</text>
<text transform="translate(284.08,393.50) scale(1.2,1) rotate(-45)" font-size="5.4" font-weight="bold" text-anchor="end" fill="#000" stroke="#000" stroke-width="0.22" >STR-V003 1 dose</text>
<text transform="translate(300.96,393.50) scale(1.2,1) rotate(-45)" font-size="5.4" font-weight="bold" text-anchor="end" fill="#000" stroke="#000" stroke-width="0.22" >STR-V003 1.5 dose</text>
<text transform="translate(317.84,393.50) scale(1.2,1) rotate(-45)" font-size="5.4" font-weight="bold" text-anchor="end" fill="#000" stroke="#000" stroke-width="0.22" >STR-V003 2 dose</text>
<text transform="translate(334.72,393.50) scale(1.2,1) rotate(-45)" font-size="5.4" font-weight="bold" text-anchor="end" fill="#000" stroke="#000" stroke-width="0.22" >empty LNPs 1 dose</text>
<text transform="translate(351.60,393.50) scale(1.2,1) rotate(-45)" font-size="5.4" font-weight="bold" text-anchor="end" fill="#000" stroke="#000" stroke-width="0.22" >empty LNPs 1.5 dose</text>
<text transform="translate(368.48,393.50) scale(1.2,1) rotate(-45)" font-size="5.4" font-weight="bold" text-anchor="end" fill="#000" stroke="#000" stroke-width="0.22" >empty LNPs 2 dose</text>
<text x="483.35" y="313.80" font-size="6.3" font-weight="bold" text-anchor="middle" fill="#000" stroke="#000" stroke-width="0.2" textLength="15.3" lengthAdjust="spacingAndGlyphs">HGB</text>
<text x="389.80" y="318.00" font-size="12.2" font-weight="bold" text-anchor="start" fill="#000" >g</text>
<circle cx="433.20" cy="326.60" r="0.95" fill="#2a2aff"/>
<text transform="translate(441.90,328.10) scale(1.2,1)" font-size="5.2" font-weight="bold" text-anchor="start" fill="#000" stroke="#000" stroke-width="0.22" >Day 4</text>
<circle cx="466.60" cy="326.60" r="0.95" fill="#ff2a2a"/>
<text transform="translate(475.30,328.10) scale(1.2,1)" font-size="5.2" font-weight="bold" text-anchor="start" fill="#000" stroke="#000" stroke-width="0.22" >Day 32</text>
<rect x="426.73" y="353.26" width="4.35" height="33.14" fill="#fff" stroke="#2a2aff" stroke-width="1.45"/>
<line x1="428.90" y1="351.14" x2="428.90" y2="352.53" stroke="#2a2aff" stroke-width="0.8" />
<line x1="427.60" y1="351.14" x2="430.20" y2="351.14" stroke="#2a2aff" stroke-width="0.8" />
<circle cx="428.97" cy="344.52" r="1.05" fill="#2a2aff"/>
<circle cx="427.85" cy="349.12" r="1.05" fill="#2a2aff"/>
<circle cx="430.28" cy="351.14" r="1.05" fill="#2a2aff"/>
<circle cx="428.57" cy="352.75" r="1.05" fill="#2a2aff"/>
<circle cx="429.74" cy="354.35" r="1.05" fill="#2a2aff"/>
<circle cx="427.75" cy="355.95" r="1.05" fill="#2a2aff"/>
<circle cx="429.62" cy="357.56" r="1.05" fill="#2a2aff"/>
<circle cx="429.18" cy="359.16" r="1.05" fill="#2a2aff"/>
<circle cx="428.27" cy="360.44" r="1.05" fill="#2a2aff"/>
<rect x="433.73" y="345.89" width="4.35" height="40.51" fill="#fff" stroke="#ff2a2a" stroke-width="1.45"/>
<line x1="435.90" y1="343.96" x2="435.90" y2="345.16" stroke="#ff2a2a" stroke-width="0.8" />
<line x1="434.60" y1="343.96" x2="437.20" y2="343.96" stroke="#ff2a2a" stroke-width="0.8" />
<circle cx="435.99" cy="337.79" r="1.05" fill="#ff2a2a"/>
<circle cx="434.94" cy="338.32" r="1.05" fill="#ff2a2a"/>
<circle cx="436.87" cy="340.25" r="1.05" fill="#ff2a2a"/>
<circle cx="435.28" cy="342.17" r="1.05" fill="#ff2a2a"/>
<circle cx="436.45" cy="344.20" r="1.05" fill="#ff2a2a"/>
<circle cx="434.53" cy="345.80" r="1.05" fill="#ff2a2a"/>
<circle cx="436.94" cy="347.41" r="1.05" fill="#ff2a2a"/>
<circle cx="435.91" cy="349.54" r="1.05" fill="#ff2a2a"/>
<circle cx="434.83" cy="351.57" r="1.05" fill="#ff2a2a"/>
<rect x="443.61" y="365.22" width="4.35" height="21.18" fill="#fff" stroke="#2a2aff" stroke-width="1.45"/>
<line x1="445.78" y1="362.99" x2="445.78" y2="364.50" stroke="#2a2aff" stroke-width="0.8" />
<line x1="444.48" y1="362.99" x2="447.08" y2="362.99" stroke="#2a2aff" stroke-width="0.8" />
<circle cx="445.65" cy="354.99" r="1.05" fill="#2a2aff"/>
<circle cx="444.83" cy="362.36" r="1.05" fill="#2a2aff"/>
<circle cx="447.14" cy="363.96" r="1.05" fill="#2a2aff"/>
<circle cx="444.98" cy="365.57" r="1.05" fill="#2a2aff"/>
<circle cx="446.66" cy="367.17" r="1.05" fill="#2a2aff"/>
<circle cx="444.16" cy="368.77" r="1.05" fill="#2a2aff"/>
<circle cx="446.85" cy="370.38" r="1.05" fill="#2a2aff"/>
<circle cx="445.86" cy="372.19" r="1.05" fill="#2a2aff"/>
<rect x="450.61" y="361.59" width="4.35" height="24.81" fill="#fff" stroke="#ff2a2a" stroke-width="1.45"/>
<line x1="452.78" y1="359.02" x2="452.78" y2="360.87" stroke="#ff2a2a" stroke-width="0.8" />
<line x1="451.48" y1="359.02" x2="454.08" y2="359.02" stroke="#ff2a2a" stroke-width="0.8" />
<circle cx="452.48" cy="352.96" r="1.05" fill="#ff2a2a"/>
<circle cx="451.80" cy="359.37" r="1.05" fill="#ff2a2a"/>
<circle cx="453.81" cy="360.44" r="1.05" fill="#ff2a2a"/>
<circle cx="452.01" cy="361.83" r="1.05" fill="#ff2a2a"/>
<circle cx="453.77" cy="363.43" r="1.05" fill="#ff2a2a"/>
<circle cx="451.60" cy="365.03" r="1.05" fill="#ff2a2a"/>
<circle cx="453.65" cy="367.17" r="1.05" fill="#ff2a2a"/>
<circle cx="453.36" cy="374.11" r="1.05" fill="#ff2a2a"/>
<rect x="460.49" y="364.69" width="4.35" height="21.71" fill="#fff" stroke="#2a2aff" stroke-width="1.45"/>
<line x1="462.66" y1="362.72" x2="462.66" y2="363.96" stroke="#2a2aff" stroke-width="0.8" />
<line x1="461.36" y1="362.72" x2="463.96" y2="362.72" stroke="#2a2aff" stroke-width="0.8" />
<circle cx="462.68" cy="355.95" r="1.05" fill="#2a2aff"/>
<circle cx="461.57" cy="357.45" r="1.05" fill="#2a2aff"/>
<circle cx="463.68" cy="363.32" r="1.05" fill="#2a2aff"/>
<circle cx="462.32" cy="364.50" r="1.05" fill="#2a2aff"/>
<circle cx="463.47" cy="365.78" r="1.05" fill="#2a2aff"/>
<circle cx="461.54" cy="367.17" r="1.05" fill="#2a2aff"/>
<circle cx="463.90" cy="368.77" r="1.05" fill="#2a2aff"/>
<circle cx="462.84" cy="370.16" r="1.05" fill="#2a2aff"/>
<rect x="467.49" y="363.09" width="4.35" height="23.31" fill="#fff" stroke="#ff2a2a" stroke-width="1.45"/>
<line x1="469.66" y1="361.42" x2="469.66" y2="362.36" stroke="#ff2a2a" stroke-width="0.8" />
<line x1="468.36" y1="361.42" x2="470.96" y2="361.42" stroke="#ff2a2a" stroke-width="0.8" />
<circle cx="469.58" cy="356.49" r="1.05" fill="#ff2a2a"/>
<circle cx="468.26" cy="357.45" r="1.05" fill="#ff2a2a"/>
<circle cx="470.65" cy="359.37" r="1.05" fill="#ff2a2a"/>
<circle cx="468.80" cy="361.40" r="1.05" fill="#ff2a2a"/>
<circle cx="470.24" cy="362.90" r="1.05" fill="#ff2a2a"/>
<circle cx="468.32" cy="364.50" r="1.05" fill="#ff2a2a"/>
<circle cx="470.36" cy="366.10" r="1.05" fill="#ff2a2a"/>
<circle cx="470.07" cy="367.28" r="1.05" fill="#ff2a2a"/>
<rect x="477.37" y="366.19" width="4.35" height="20.21" fill="#fff" stroke="#2a2aff" stroke-width="1.45"/>
<line x1="479.54" y1="363.23" x2="479.54" y2="365.46" stroke="#2a2aff" stroke-width="0.8" />
<line x1="478.24" y1="363.23" x2="480.84" y2="363.23" stroke="#2a2aff" stroke-width="0.8" />
<circle cx="479.44" cy="347.62" r="1.05" fill="#2a2aff"/>
<circle cx="478.23" cy="359.69" r="1.05" fill="#2a2aff"/>
<circle cx="480.93" cy="362.90" r="1.05" fill="#2a2aff"/>
<circle cx="478.93" cy="364.82" r="1.05" fill="#2a2aff"/>
<circle cx="480.13" cy="366.64" r="1.05" fill="#2a2aff"/>
<circle cx="478.13" cy="368.77" r="1.05" fill="#2a2aff"/>
<circle cx="480.66" cy="370.91" r="1.05" fill="#2a2aff"/>
<circle cx="479.57" cy="373.15" r="1.05" fill="#2a2aff"/>
<rect x="484.37" y="364.26" width="4.35" height="22.14" fill="#fff" stroke="#ff2a2a" stroke-width="1.45"/>
<line x1="486.54" y1="362.04" x2="486.54" y2="363.54" stroke="#ff2a2a" stroke-width="0.8" />
<line x1="485.24" y1="362.04" x2="487.84" y2="362.04" stroke="#ff2a2a" stroke-width="0.8" />
<circle cx="486.83" cy="353.39" r="1.05" fill="#ff2a2a"/>
<circle cx="485.05" cy="360.44" r="1.05" fill="#ff2a2a"/>
<circle cx="487.89" cy="362.36" r="1.05" fill="#ff2a2a"/>
<circle cx="486.15" cy="363.96" r="1.05" fill="#ff2a2a"/>
<circle cx="486.95" cy="365.57" r="1.05" fill="#ff2a2a"/>
<circle cx="485.31" cy="367.70" r="1.05" fill="#ff2a2a"/>
<circle cx="487.46" cy="370.48" r="1.05" fill="#ff2a2a"/>
<rect x="494.25" y="366.83" width="4.35" height="19.57" fill="#fff" stroke="#2a2aff" stroke-width="1.45"/>
<line x1="496.42" y1="365.16" x2="496.42" y2="366.10" stroke="#2a2aff" stroke-width="0.8" />
<line x1="495.12" y1="365.16" x2="497.72" y2="365.16" stroke="#2a2aff" stroke-width="0.8" />
<circle cx="496.47" cy="362.36" r="1.05" fill="#2a2aff"/>
<circle cx="494.93" cy="362.90" r="1.05" fill="#2a2aff"/>
<circle cx="497.35" cy="364.18" r="1.05" fill="#2a2aff"/>
<circle cx="495.63" cy="365.57" r="1.05" fill="#2a2aff"/>
<circle cx="497.39" cy="367.17" r="1.05" fill="#2a2aff"/>
<circle cx="494.84" cy="368.77" r="1.05" fill="#2a2aff"/>
<circle cx="497.57" cy="370.91" r="1.05" fill="#2a2aff"/>
<circle cx="496.98" cy="373.15" r="1.05" fill="#2a2aff"/>
<rect x="501.25" y="361.70" width="4.35" height="24.70" fill="#fff" stroke="#ff2a2a" stroke-width="1.45"/>
<line x1="503.42" y1="359.36" x2="503.42" y2="360.97" stroke="#ff2a2a" stroke-width="0.8" />
<line x1="502.12" y1="359.36" x2="504.72" y2="359.36" stroke="#ff2a2a" stroke-width="0.8" />
<circle cx="503.69" cy="350.82" r="1.05" fill="#ff2a2a"/>
<circle cx="502.13" cy="352.11" r="1.05" fill="#ff2a2a"/>
<circle cx="504.53" cy="358.52" r="1.05" fill="#ff2a2a"/>
<circle cx="502.83" cy="360.44" r="1.05" fill="#ff2a2a"/>
<circle cx="504.29" cy="362.36" r="1.05" fill="#ff2a2a"/>
<circle cx="501.78" cy="364.50" r="1.05" fill="#ff2a2a"/>
<circle cx="504.57" cy="366.64" r="1.05" fill="#ff2a2a"/>
<circle cx="503.90" cy="369.31" r="1.05" fill="#ff2a2a"/>
<rect x="511.13" y="368.75" width="4.35" height="17.65" fill="#fff" stroke="#2a2aff" stroke-width="1.45"/>
<line x1="513.30" y1="366.18" x2="513.30" y2="368.02" stroke="#2a2aff" stroke-width="0.8" />
<line x1="512.00" y1="366.18" x2="514.60" y2="366.18" stroke="#2a2aff" stroke-width="0.8" />
<circle cx="513.52" cy="355.85" r="1.05" fill="#2a2aff"/>
<circle cx="511.82" cy="364.18" r="1.05" fill="#2a2aff"/>
<circle cx="514.77" cy="366.74" r="1.05" fill="#2a2aff"/>
<circle cx="512.45" cy="368.24" r="1.05" fill="#2a2aff"/>
<circle cx="513.90" cy="369.84" r="1.05" fill="#2a2aff"/>
<circle cx="511.97" cy="371.98" r="1.05" fill="#2a2aff"/>
<circle cx="514.55" cy="374.65" r="1.05" fill="#2a2aff"/>
<circle cx="513.50" cy="376.89" r="1.05" fill="#2a2aff"/>
<rect x="518.13" y="361.16" width="4.35" height="25.24" fill="#fff" stroke="#ff2a2a" stroke-width="1.45"/>
<line x1="520.30" y1="359.21" x2="520.30" y2="360.44" stroke="#ff2a2a" stroke-width="0.8" />
<line x1="519.00" y1="359.21" x2="521.60" y2="359.21" stroke="#ff2a2a" stroke-width="0.8" />
<circle cx="520.55" cy="355.31" r="1.05" fill="#ff2a2a"/>
<circle cx="519.13" cy="356.49" r="1.05" fill="#ff2a2a"/>
<circle cx="521.39" cy="359.05" r="1.05" fill="#ff2a2a"/>
<circle cx="519.59" cy="360.76" r="1.05" fill="#ff2a2a"/>
<circle cx="520.81" cy="362.36" r="1.05" fill="#ff2a2a"/>
<circle cx="518.65" cy="364.50" r="1.05" fill="#ff2a2a"/>
<circle cx="521.09" cy="366.64" r="1.05" fill="#ff2a2a"/>
<circle cx="520.71" cy="369.31" r="1.05" fill="#ff2a2a"/>
<rect x="528.01" y="370.67" width="4.35" height="15.73" fill="#fff" stroke="#2a2aff" stroke-width="1.45"/>
<line x1="530.18" y1="368.78" x2="530.18" y2="369.95" stroke="#2a2aff" stroke-width="0.8" />
<line x1="528.88" y1="368.78" x2="531.48" y2="368.78" stroke="#2a2aff" stroke-width="0.8" />
<circle cx="530.48" cy="363.54" r="1.05" fill="#2a2aff"/>
<circle cx="528.78" cy="365.46" r="1.05" fill="#2a2aff"/>
<circle cx="531.11" cy="367.38" r="1.05" fill="#2a2aff"/>
<circle cx="529.87" cy="369.31" r="1.05" fill="#2a2aff"/>
<circle cx="530.90" cy="370.91" r="1.05" fill="#2a2aff"/>
<circle cx="528.72" cy="373.05" r="1.05" fill="#2a2aff"/>
<circle cx="531.02" cy="375.18" r="1.05" fill="#2a2aff"/>
<circle cx="530.54" cy="376.89" r="1.05" fill="#2a2aff"/>
<rect x="535.01" y="364.26" width="4.35" height="22.14" fill="#fff" stroke="#ff2a2a" stroke-width="1.45"/>
<line x1="537.18" y1="361.80" x2="537.18" y2="363.54" stroke="#ff2a2a" stroke-width="0.8" />
<line x1="535.88" y1="361.80" x2="538.48" y2="361.80" stroke="#ff2a2a" stroke-width="0.8" />
<circle cx="537.38" cy="354.56" r="1.05" fill="#ff2a2a"/>
<circle cx="535.95" cy="357.23" r="1.05" fill="#ff2a2a"/>
<circle cx="538.33" cy="359.05" r="1.05" fill="#ff2a2a"/>
<circle cx="536.31" cy="360.97" r="1.05" fill="#ff2a2a"/>
<circle cx="538.13" cy="363.43" r="1.05" fill="#ff2a2a"/>
<circle cx="535.50" cy="366.10" r="1.05" fill="#ff2a2a"/>
<circle cx="538.18" cy="369.31" r="1.05" fill="#ff2a2a"/>
<circle cx="537.68" cy="371.98" r="1.05" fill="#ff2a2a"/>
<circle cx="536.06" cy="374.43" r="1.05" fill="#ff2a2a"/>
<line x1="423.90" y1="322.00" x2="423.90" y2="387.10" stroke="#1a1a1a" stroke-width="1.4" />
<line x1="423.20" y1="386.40" x2="543.18" y2="386.40" stroke="#1a1a1a" stroke-width="1.3" />
<line x1="421.30" y1="386.40" x2="423.90" y2="386.40" stroke="#1a1a1a" stroke-width="1.0" />
<text transform="translate(420.40,388.20) scale(1.2,1)" font-size="5.0" font-weight="bold" text-anchor="end" fill="#000" stroke="#000" stroke-width="0.22" >120</text>
<line x1="421.30" y1="365.03" x2="423.90" y2="365.03" stroke="#1a1a1a" stroke-width="1.0" />
<text transform="translate(420.40,366.83) scale(1.2,1)" font-size="5.0" font-weight="bold" text-anchor="end" fill="#000" stroke="#000" stroke-width="0.22" >140</text>
<line x1="421.30" y1="343.67" x2="423.90" y2="343.67" stroke="#1a1a1a" stroke-width="1.0" />
<text transform="translate(420.40,345.47) scale(1.2,1)" font-size="5.0" font-weight="bold" text-anchor="end" fill="#000" stroke="#000" stroke-width="0.22" >160</text>
<line x1="421.30" y1="322.30" x2="423.90" y2="322.30" stroke="#1a1a1a" stroke-width="1.0" />
<text transform="translate(420.40,324.10) scale(1.2,1)" font-size="5.0" font-weight="bold" text-anchor="end" fill="#000" stroke="#000" stroke-width="0.22" >180</text>
<line x1="432.30" y1="386.40" x2="432.30" y2="389.00" stroke="#1a1a1a" stroke-width="1.0" />
<line x1="449.18" y1="386.40" x2="449.18" y2="389.00" stroke="#1a1a1a" stroke-width="1.0" />
<line x1="466.06" y1="386.40" x2="466.06" y2="389.00" stroke="#1a1a1a" stroke-width="1.0" />
<line x1="482.94" y1="386.40" x2="482.94" y2="389.00" stroke="#1a1a1a" stroke-width="1.0" />
<line x1="499.82" y1="386.40" x2="499.82" y2="389.00" stroke="#1a1a1a" stroke-width="1.0" />
<line x1="516.70" y1="386.40" x2="516.70" y2="389.00" stroke="#1a1a1a" stroke-width="1.0" />
<line x1="533.58" y1="386.40" x2="533.58" y2="389.00" stroke="#1a1a1a" stroke-width="1.0" />
<text transform="translate(404.30,353.80) scale(1.2,1) rotate(-90)" font-size="5.2" font-weight="bold" text-anchor="middle" fill="#000" stroke="#000" stroke-width="0.1" >g/L</text>
<text transform="translate(435.20,394.40) scale(1.2,1) rotate(-45)" font-size="5.4" font-weight="bold" text-anchor="end" fill="#000" stroke="#000" stroke-width="0.22" >negative control</text>
<text transform="translate(452.08,394.40) scale(1.2,1) rotate(-45)" font-size="5.4" font-weight="bold" text-anchor="end" fill="#000" stroke="#000" stroke-width="0.22" >STR-V003 1 dose</text>
<text transform="translate(468.96,394.40) scale(1.2,1) rotate(-45)" font-size="5.4" font-weight="bold" text-anchor="end" fill="#000" stroke="#000" stroke-width="0.22" >STR-V003 1.5 dose</text>
<text transform="translate(485.84,394.40) scale(1.2,1) rotate(-45)" font-size="5.4" font-weight="bold" text-anchor="end" fill="#000" stroke="#000" stroke-width="0.22" >STR-V003 2 dose</text>
<text transform="translate(502.72,394.40) scale(1.2,1) rotate(-45)" font-size="5.4" font-weight="bold" text-anchor="end" fill="#000" stroke="#000" stroke-width="0.22" >empty LNPs 1 dose</text>
<text transform="translate(519.60,394.40) scale(1.2,1) rotate(-45)" font-size="5.4" font-weight="bold" text-anchor="end" fill="#000" stroke="#000" stroke-width="0.22" >empty LNPs 1.5 dose</text>
<text transform="translate(536.48,394.40) scale(1.2,1) rotate(-45)" font-size="5.4" font-weight="bold" text-anchor="end" fill="#000" stroke="#000" stroke-width="0.22" >empty LNPs 2 dose</text>
<text x="120.90" y="446.50" font-size="6.3" font-weight="bold" text-anchor="middle" fill="#000" stroke="#000" stroke-width="0.2" textLength="15.0" lengthAdjust="spacingAndGlyphs">HCT</text>
<text x="14.60" y="429.80" font-size="12.2" font-weight="bold" text-anchor="start" fill="#000" >h</text>
<circle cx="70.50" cy="459.50" r="0.95" fill="#2a2aff"/>
<text transform="translate(79.20,461.00) scale(1.2,1)" font-size="5.2" font-weight="bold" text-anchor="start" fill="#000" stroke="#000" stroke-width="0.22" >Day 4</text>
<circle cx="105.40" cy="459.50" r="0.95" fill="#ff2a2a"/>
<text transform="translate(114.10,461.00) scale(1.2,1)" font-size="5.2" font-weight="bold" text-anchor="start" fill="#000" stroke="#000" stroke-width="0.22" >Day 32</text>
<rect x="64.42" y="485.31" width="4.35" height="33.20" fill="#fff" stroke="#2a2aff" stroke-width="1.45"/>
<line x1="66.60" y1="483.26" x2="66.60" y2="484.58" stroke="#2a2aff" stroke-width="0.8" />
<line x1="65.30" y1="483.26" x2="67.90" y2="483.26" stroke="#2a2aff" stroke-width="0.8" />
<circle cx="66.78" cy="476.90" r="1.05" fill="#2a2aff"/>
<circle cx="65.59" cy="482.34" r="1.05" fill="#2a2aff"/>
<circle cx="67.79" cy="483.30" r="1.05" fill="#2a2aff"/>
<circle cx="65.86" cy="484.26" r="1.05" fill="#2a2aff"/>
<circle cx="67.00" cy="485.86" r="1.05" fill="#2a2aff"/>
<circle cx="65.30" cy="487.46" r="1.05" fill="#2a2aff"/>
<circle cx="67.58" cy="489.06" r="1.05" fill="#2a2aff"/>
<circle cx="67.06" cy="490.66" r="1.05" fill="#2a2aff"/>
<circle cx="65.62" cy="491.94" r="1.05" fill="#2a2aff"/>
<rect x="71.42" y="479.55" width="4.35" height="38.96" fill="#fff" stroke="#ff2a2a" stroke-width="1.45"/>
<line x1="73.60" y1="477.81" x2="73.60" y2="478.82" stroke="#ff2a2a" stroke-width="0.8" />
<line x1="72.30" y1="477.81" x2="74.90" y2="477.81" stroke="#ff2a2a" stroke-width="0.8" />
<circle cx="73.76" cy="471.46" r="1.05" fill="#ff2a2a"/>
<circle cx="72.26" cy="473.38" r="1.05" fill="#ff2a2a"/>
<circle cx="74.98" cy="475.62" r="1.05" fill="#ff2a2a"/>
<circle cx="73.14" cy="476.90" r="1.05" fill="#ff2a2a"/>
<circle cx="74.25" cy="478.18" r="1.05" fill="#ff2a2a"/>
<circle cx="72.22" cy="479.46" r="1.05" fill="#ff2a2a"/>
<circle cx="74.71" cy="480.74" r="1.05" fill="#ff2a2a"/>
<circle cx="73.72" cy="482.02" r="1.05" fill="#ff2a2a"/>
<circle cx="72.73" cy="482.98" r="1.05" fill="#ff2a2a"/>
<rect x="81.30" y="494.27" width="4.35" height="24.23" fill="#fff" stroke="#2a2aff" stroke-width="1.45"/>
<line x1="83.48" y1="492.50" x2="83.48" y2="493.54" stroke="#2a2aff" stroke-width="0.8" />
<line x1="82.18" y1="492.50" x2="84.78" y2="492.50" stroke="#2a2aff" stroke-width="0.8" />
<circle cx="83.66" cy="486.50" r="1.05" fill="#2a2aff"/>
<circle cx="82.14" cy="488.42" r="1.05" fill="#2a2aff"/>
<circle cx="84.86" cy="490.34" r="1.05" fill="#2a2aff"/>
<circle cx="82.99" cy="491.94" r="1.05" fill="#2a2aff"/>
<circle cx="84.39" cy="493.54" r="1.05" fill="#2a2aff"/>
<circle cx="81.98" cy="495.14" r="1.05" fill="#2a2aff"/>
<circle cx="84.24" cy="496.74" r="1.05" fill="#2a2aff"/>
<circle cx="83.96" cy="498.34" r="1.05" fill="#2a2aff"/>
<rect x="88.30" y="494.27" width="4.35" height="24.23" fill="#fff" stroke="#ff2a2a" stroke-width="1.45"/>
<line x1="90.48" y1="492.20" x2="90.48" y2="493.54" stroke="#ff2a2a" stroke-width="0.8" />
<line x1="89.18" y1="492.20" x2="91.78" y2="492.20" stroke="#ff2a2a" stroke-width="0.8" />
<circle cx="90.66" cy="483.94" r="1.05" fill="#ff2a2a"/>
<circle cx="89.25" cy="488.74" r="1.05" fill="#ff2a2a"/>
<circle cx="91.44" cy="489.06" r="1.05" fill="#ff2a2a"/>
<circle cx="89.70" cy="490.98" r="1.05" fill="#ff2a2a"/>
<circle cx="91.26" cy="492.90" r="1.05" fill="#ff2a2a"/>
<circle cx="88.95" cy="494.82" r="1.05" fill="#ff2a2a"/>
<circle cx="91.75" cy="497.06" r="1.05" fill="#ff2a2a"/>
<circle cx="90.83" cy="499.30" r="1.05" fill="#ff2a2a"/>
<rect x="98.18" y="494.27" width="4.35" height="24.23" fill="#fff" stroke="#2a2aff" stroke-width="1.45"/>
<line x1="100.36" y1="492.28" x2="100.36" y2="493.54" stroke="#2a2aff" stroke-width="0.8" />
<line x1="99.06" y1="492.28" x2="101.66" y2="492.28" stroke="#2a2aff" stroke-width="0.8" />
<circle cx="100.18" cy="483.94" r="1.05" fill="#2a2aff"/>
<circle cx="99.25" cy="486.50" r="1.05" fill="#2a2aff"/>
<circle cx="101.48" cy="492.90" r="1.05" fill="#2a2aff"/>
<circle cx="100.02" cy="494.50" r="1.05" fill="#2a2aff"/>
<circle cx="101.31" cy="496.10" r="1.05" fill="#2a2aff"/>
<circle cx="98.97" cy="497.38" r="1.05" fill="#2a2aff"/>
<circle cx="101.45" cy="498.34" r="1.05" fill="#2a2aff"/>
<rect x="105.18" y="491.71" width="4.35" height="26.79" fill="#fff" stroke="#ff2a2a" stroke-width="1.45"/>
<line x1="107.36" y1="490.03" x2="107.36" y2="490.98" stroke="#ff2a2a" stroke-width="0.8" />
<line x1="106.06" y1="490.03" x2="108.66" y2="490.03" stroke="#ff2a2a" stroke-width="0.8" />
<circle cx="107.48" cy="485.54" r="1.05" fill="#ff2a2a"/>
<circle cx="106.34" cy="487.46" r="1.05" fill="#ff2a2a"/>
<circle cx="108.85" cy="489.38" r="1.05" fill="#ff2a2a"/>
<circle cx="106.48" cy="490.98" r="1.05" fill="#ff2a2a"/>
<circle cx="107.98" cy="492.58" r="1.05" fill="#ff2a2a"/>
<circle cx="106.02" cy="494.50" r="1.05" fill="#ff2a2a"/>
<circle cx="108.24" cy="496.42" r="1.05" fill="#ff2a2a"/>
<rect x="115.06" y="495.87" width="4.35" height="22.64" fill="#fff" stroke="#2a2aff" stroke-width="1.45"/>
<line x1="117.24" y1="493.01" x2="117.24" y2="495.14" stroke="#2a2aff" stroke-width="0.8" />
<line x1="115.94" y1="493.01" x2="118.54" y2="493.01" stroke="#2a2aff" stroke-width="0.8" />
<circle cx="117.29" cy="479.78" r="1.05" fill="#2a2aff"/>
<circle cx="115.79" cy="488.10" r="1.05" fill="#2a2aff"/>
<circle cx="118.67" cy="489.38" r="1.05" fill="#2a2aff"/>
<circle cx="116.66" cy="492.58" r="1.05" fill="#2a2aff"/>
<circle cx="117.71" cy="495.14" r="1.05" fill="#2a2aff"/>
<circle cx="115.94" cy="497.70" r="1.05" fill="#2a2aff"/>
<circle cx="118.13" cy="500.90" r="1.05" fill="#2a2aff"/>
<circle cx="117.36" cy="504.10" r="1.05" fill="#2a2aff"/>
<rect x="122.06" y="493.31" width="4.35" height="25.20" fill="#fff" stroke="#ff2a2a" stroke-width="1.45"/>
<line x1="124.24" y1="490.56" x2="124.24" y2="492.58" stroke="#ff2a2a" stroke-width="0.8" />
<line x1="122.94" y1="490.56" x2="125.54" y2="490.56" stroke="#ff2a2a" stroke-width="0.8" />
<circle cx="124.23" cy="477.22" r="1.05" fill="#ff2a2a"/>
<circle cx="122.82" cy="481.70" r="1.05" fill="#ff2a2a"/>
<circle cx="125.27" cy="485.54" r="1.05" fill="#ff2a2a"/>
<circle cx="123.86" cy="489.38" r="1.05" fill="#ff2a2a"/>
<circle cx="125.06" cy="491.30" r="1.05" fill="#ff2a2a"/>
<circle cx="122.55" cy="493.86" r="1.05" fill="#ff2a2a"/>
<circle cx="125.41" cy="496.74" r="1.05" fill="#ff2a2a"/>
<circle cx="124.25" cy="500.26" r="1.05" fill="#ff2a2a"/>
<rect x="131.94" y="497.79" width="4.35" height="20.71" fill="#fff" stroke="#2a2aff" stroke-width="1.45"/>
<line x1="134.12" y1="495.83" x2="134.12" y2="497.06" stroke="#2a2aff" stroke-width="0.8" />
<line x1="132.82" y1="495.83" x2="135.42" y2="495.83" stroke="#2a2aff" stroke-width="0.8" />
<circle cx="134.02" cy="491.30" r="1.05" fill="#2a2aff"/>
<circle cx="133.16" cy="493.22" r="1.05" fill="#2a2aff"/>
<circle cx="135.39" cy="495.14" r="1.05" fill="#2a2aff"/>
<circle cx="133.40" cy="497.70" r="1.05" fill="#2a2aff"/>
<circle cx="134.75" cy="499.94" r="1.05" fill="#2a2aff"/>
<circle cx="132.65" cy="502.50" r="1.05" fill="#2a2aff"/>
<circle cx="134.90" cy="505.38" r="1.05" fill="#2a2aff"/>
<rect x="138.94" y="490.11" width="4.35" height="28.40" fill="#fff" stroke="#ff2a2a" stroke-width="1.45"/>
<line x1="141.12" y1="487.81" x2="141.12" y2="489.38" stroke="#ff2a2a" stroke-width="0.8" />
<line x1="139.82" y1="487.81" x2="142.42" y2="487.81" stroke="#ff2a2a" stroke-width="0.8" />
<circle cx="141.42" cy="482.34" r="1.05" fill="#ff2a2a"/>
<circle cx="139.65" cy="484.26" r="1.05" fill="#ff2a2a"/>
<circle cx="142.27" cy="487.46" r="1.05" fill="#ff2a2a"/>
<circle cx="140.67" cy="489.70" r="1.05" fill="#ff2a2a"/>
<circle cx="141.76" cy="492.26" r="1.05" fill="#ff2a2a"/>
<circle cx="140.01" cy="495.14" r="1.05" fill="#ff2a2a"/>
<circle cx="141.97" cy="497.70" r="1.05" fill="#ff2a2a"/>
<circle cx="141.71" cy="500.26" r="1.05" fill="#ff2a2a"/>
<rect x="148.82" y="496.50" width="4.35" height="22.00" fill="#fff" stroke="#2a2aff" stroke-width="1.45"/>
<line x1="151.00" y1="493.89" x2="151.00" y2="495.78" stroke="#2a2aff" stroke-width="0.8" />
<line x1="149.70" y1="493.89" x2="152.30" y2="493.89" stroke="#2a2aff" stroke-width="0.8" />
<circle cx="151.24" cy="484.90" r="1.05" fill="#2a2aff"/>
<circle cx="149.90" cy="491.94" r="1.05" fill="#2a2aff"/>
<circle cx="152.43" cy="495.14" r="1.05" fill="#2a2aff"/>
<circle cx="150.37" cy="497.70" r="1.05" fill="#2a2aff"/>
<circle cx="151.90" cy="500.58" r="1.05" fill="#2a2aff"/>
<circle cx="149.78" cy="503.46" r="1.05" fill="#2a2aff"/>
<circle cx="152.01" cy="506.50" r="1.05" fill="#2a2aff"/>
<rect x="155.82" y="492.03" width="4.35" height="26.47" fill="#fff" stroke="#ff2a2a" stroke-width="1.45"/>
<line x1="158.00" y1="489.84" x2="158.00" y2="491.30" stroke="#ff2a2a" stroke-width="0.8" />
<line x1="156.70" y1="489.84" x2="159.30" y2="489.84" stroke="#ff2a2a" stroke-width="0.8" />
<circle cx="157.98" cy="483.62" r="1.05" fill="#ff2a2a"/>
<circle cx="156.92" cy="486.82" r="1.05" fill="#ff2a2a"/>
<circle cx="159.15" cy="488.10" r="1.05" fill="#ff2a2a"/>
<circle cx="157.15" cy="490.66" r="1.05" fill="#ff2a2a"/>
<circle cx="158.85" cy="493.22" r="1.05" fill="#ff2a2a"/>
<circle cx="156.46" cy="496.10" r="1.05" fill="#ff2a2a"/>
<circle cx="158.99" cy="498.34" r="1.05" fill="#ff2a2a"/>
<circle cx="158.47" cy="500.26" r="1.05" fill="#ff2a2a"/>
<rect x="165.70" y="499.71" width="4.35" height="18.79" fill="#fff" stroke="#2a2aff" stroke-width="1.45"/>
<line x1="167.88" y1="497.41" x2="167.88" y2="498.98" stroke="#2a2aff" stroke-width="0.8" />
<line x1="166.58" y1="497.41" x2="169.18" y2="497.41" stroke="#2a2aff" stroke-width="0.8" />
<circle cx="167.68" cy="490.02" r="1.05" fill="#2a2aff"/>
<circle cx="166.39" cy="492.58" r="1.05" fill="#2a2aff"/>
<circle cx="168.85" cy="495.14" r="1.05" fill="#2a2aff"/>
<circle cx="167.33" cy="498.66" r="1.05" fill="#2a2aff"/>
<circle cx="168.50" cy="501.54" r="1.05" fill="#2a2aff"/>
<circle cx="166.33" cy="504.74" r="1.05" fill="#2a2aff"/>
<circle cx="168.85" cy="507.94" r="1.05" fill="#2a2aff"/>
<rect x="172.70" y="490.75" width="4.35" height="27.76" fill="#fff" stroke="#ff2a2a" stroke-width="1.45"/>
<line x1="174.88" y1="488.40" x2="174.88" y2="490.02" stroke="#ff2a2a" stroke-width="0.8" />
<line x1="173.58" y1="488.40" x2="176.18" y2="488.40" stroke="#ff2a2a" stroke-width="0.8" />
<circle cx="175.14" cy="484.26" r="1.05" fill="#ff2a2a"/>
<circle cx="173.53" cy="484.90" r="1.05" fill="#ff2a2a"/>
<circle cx="176.03" cy="486.82" r="1.05" fill="#ff2a2a"/>
<circle cx="174.51" cy="488.74" r="1.05" fill="#ff2a2a"/>
<circle cx="175.65" cy="491.62" r="1.05" fill="#ff2a2a"/>
<circle cx="173.34" cy="494.82" r="1.05" fill="#ff2a2a"/>
<circle cx="175.86" cy="498.34" r="1.05" fill="#ff2a2a"/>
<circle cx="175.17" cy="502.82" r="1.05" fill="#ff2a2a"/>
<line x1="61.20" y1="454.20" x2="61.20" y2="519.20" stroke="#1a1a1a" stroke-width="1.4" />
<line x1="60.50" y1="518.50" x2="180.88" y2="518.50" stroke="#1a1a1a" stroke-width="1.3" />
<line x1="58.60" y1="518.50" x2="61.20" y2="518.50" stroke="#1a1a1a" stroke-width="1.0" />
<text transform="translate(57.70,520.30) scale(1.2,1)" font-size="5.0" font-weight="bold" text-anchor="end" fill="#000" stroke="#000" stroke-width="0.22" >35</text>
<line x1="58.60" y1="502.50" x2="61.20" y2="502.50" stroke="#1a1a1a" stroke-width="1.0" />
<text transform="translate(57.70,504.30) scale(1.2,1)" font-size="5.0" font-weight="bold" text-anchor="end" fill="#000" stroke="#000" stroke-width="0.22" >40</text>
<line x1="58.60" y1="486.50" x2="61.20" y2="486.50" stroke="#1a1a1a" stroke-width="1.0" />
<text transform="translate(57.70,488.30) scale(1.2,1)" font-size="5.0" font-weight="bold" text-anchor="end" fill="#000" stroke="#000" stroke-width="0.22" >45</text>
<line x1="58.60" y1="470.50" x2="61.20" y2="470.50" stroke="#1a1a1a" stroke-width="1.0" />
<text transform="translate(57.70,472.30) scale(1.2,1)" font-size="5.0" font-weight="bold" text-anchor="end" fill="#000" stroke="#000" stroke-width="0.22" >50</text>
<line x1="58.60" y1="454.50" x2="61.20" y2="454.50" stroke="#1a1a1a" stroke-width="1.0" />
<text transform="translate(57.70,456.30) scale(1.2,1)" font-size="5.0" font-weight="bold" text-anchor="end" fill="#000" stroke="#000" stroke-width="0.22" >55</text>
<line x1="70.00" y1="518.50" x2="70.00" y2="521.10" stroke="#1a1a1a" stroke-width="1.0" />
<line x1="86.88" y1="518.50" x2="86.88" y2="521.10" stroke="#1a1a1a" stroke-width="1.0" />
<line x1="103.76" y1="518.50" x2="103.76" y2="521.10" stroke="#1a1a1a" stroke-width="1.0" />
<line x1="120.64" y1="518.50" x2="120.64" y2="521.10" stroke="#1a1a1a" stroke-width="1.0" />
<line x1="137.52" y1="518.50" x2="137.52" y2="521.10" stroke="#1a1a1a" stroke-width="1.0" />
<line x1="154.40" y1="518.50" x2="154.40" y2="521.10" stroke="#1a1a1a" stroke-width="1.0" />
<line x1="171.28" y1="518.50" x2="171.28" y2="521.10" stroke="#1a1a1a" stroke-width="1.0" />
<text transform="translate(45.80,485.50) scale(1.2,1) rotate(-90)" font-size="5.2" font-weight="bold" text-anchor="middle" fill="#000" stroke="#000" stroke-width="0.1" >Percentage (%)</text>
<text transform="translate(72.90,526.50) scale(1.2,1) rotate(-45)" font-size="5.4" font-weight="bold" text-anchor="end" fill="#000" stroke="#000" stroke-width="0.22" >negative control</text>
<text transform="translate(89.78,526.50) scale(1.2,1) rotate(-45)" font-size="5.4" font-weight="bold" text-anchor="end" fill="#000" stroke="#000" stroke-width="0.22" >STR-V003 1 dose</text>
<text transform="translate(106.66,526.50) scale(1.2,1) rotate(-45)" font-size="5.4" font-weight="bold" text-anchor="end" fill="#000" stroke="#000" stroke-width="0.22" >STR-V003 1.5 dose</text>
<text transform="translate(123.54,526.50) scale(1.2,1) rotate(-45)" font-size="5.4" font-weight="bold" text-anchor="end" fill="#000" stroke="#000" stroke-width="0.22" >STR-V003 2 dose</text>
<text transform="translate(140.42,526.50) scale(1.2,1) rotate(-45)" font-size="5.4" font-weight="bold" text-anchor="end" fill="#000" stroke="#000" stroke-width="0.22" >empty LNPs 1 dose</text>
<text transform="translate(157.30,526.50) scale(1.2,1) rotate(-45)" font-size="5.4" font-weight="bold" text-anchor="end" fill="#000" stroke="#000" stroke-width="0.22" >empty LNPs 1.5 dose</text>
<text transform="translate(174.18,526.50) scale(1.2,1) rotate(-45)" font-size="5.4" font-weight="bold" text-anchor="end" fill="#000" stroke="#000" stroke-width="0.22" >empty LNPs 2 dose</text>
<text x="313.95" y="446.50" font-size="6.3" font-weight="bold" text-anchor="middle" fill="#000" stroke="#000" stroke-width="0.2" textLength="21.5" lengthAdjust="spacingAndGlyphs">MCHC</text>
<text x="215.60" y="429.80" font-size="12.2" font-weight="bold" text-anchor="start" fill="#000" >i</text>
<circle cx="263.90" cy="458.80" r="0.95" fill="#2a2aff"/>
<text transform="translate(272.60,460.30) scale(1.2,1)" font-size="5.2" font-weight="normal" text-anchor="start" fill="#000" stroke="#000" stroke-width="0.22" >Day 4</text>
<circle cx="298.40" cy="458.80" r="0.95" fill="#ff2a2a"/>
<text transform="translate(307.10,460.30) scale(1.2,1)" font-size="5.2" font-weight="normal" text-anchor="start" fill="#000" stroke="#000" stroke-width="0.22" >Day 32</text>
<rect x="257.53" y="490.06" width="4.35" height="27.94" fill="#fff" stroke="#2a2aff" stroke-width="1.45"/>
<line x1="259.70" y1="488.30" x2="259.70" y2="489.33" stroke="#2a2aff" stroke-width="0.8" />
<line x1="258.40" y1="488.30" x2="261.00" y2="488.30" stroke="#2a2aff" stroke-width="0.8" />
<circle cx="259.59" cy="481.95" r="1.05" fill="#2a2aff"/>
<circle cx="258.29" cy="483.86" r="1.05" fill="#2a2aff"/>
<circle cx="260.99" cy="485.26" r="1.05" fill="#2a2aff"/>
<circle cx="258.84" cy="486.53" r="1.05" fill="#2a2aff"/>
<circle cx="260.42" cy="488.06" r="1.05" fill="#2a2aff"/>
<circle cx="258.22" cy="489.59" r="1.05" fill="#2a2aff"/>
<circle cx="260.43" cy="491.25" r="1.05" fill="#2a2aff"/>
<circle cx="260.00" cy="492.52" r="1.05" fill="#2a2aff"/>
<circle cx="258.52" cy="493.79" r="1.05" fill="#2a2aff"/>
<rect x="264.53" y="488.28" width="4.35" height="29.72" fill="#fff" stroke="#ff2a2a" stroke-width="1.45"/>
<line x1="266.70" y1="484.93" x2="266.70" y2="487.55" stroke="#ff2a2a" stroke-width="0.8" />
<line x1="265.40" y1="484.93" x2="268.00" y2="484.93" stroke="#ff2a2a" stroke-width="0.8" />
<circle cx="266.66" cy="471.50" r="1.05" fill="#ff2a2a"/>
<circle cx="265.24" cy="473.41" r="1.05" fill="#ff2a2a"/>
<circle cx="267.65" cy="481.05" r="1.05" fill="#ff2a2a"/>
<circle cx="266.05" cy="484.75" r="1.05" fill="#ff2a2a"/>
<circle cx="267.60" cy="487.55" r="1.05" fill="#ff2a2a"/>
<circle cx="265.07" cy="489.33" r="1.05" fill="#ff2a2a"/>
<circle cx="267.53" cy="491.25" r="1.05" fill="#ff2a2a"/>
<circle cx="267.08" cy="493.79" r="1.05" fill="#ff2a2a"/>
<circle cx="266.07" cy="501.44" r="1.05" fill="#ff2a2a"/>
<rect x="274.41" y="497.70" width="4.35" height="20.30" fill="#fff" stroke="#2a2aff" stroke-width="1.45"/>
<line x1="276.58" y1="495.51" x2="276.58" y2="496.98" stroke="#2a2aff" stroke-width="0.8" />
<line x1="275.28" y1="495.51" x2="277.88" y2="495.51" stroke="#2a2aff" stroke-width="0.8" />
<circle cx="276.63" cy="488.83" r="1.05" fill="#2a2aff"/>
<circle cx="275.32" cy="490.61" r="1.05" fill="#2a2aff"/>
<circle cx="278.07" cy="492.52" r="1.05" fill="#2a2aff"/>
<circle cx="275.71" cy="495.58" r="1.05" fill="#2a2aff"/>
<circle cx="277.50" cy="497.62" r="1.05" fill="#2a2aff"/>
<circle cx="275.05" cy="499.53" r="1.05" fill="#2a2aff"/>
<circle cx="277.37" cy="501.44" r="1.05" fill="#2a2aff"/>
<circle cx="276.65" cy="503.35" r="1.05" fill="#2a2aff"/>
<circle cx="275.57" cy="505.64" r="1.05" fill="#2a2aff"/>
<rect x="281.41" y="493.63" width="4.35" height="24.37" fill="#fff" stroke="#ff2a2a" stroke-width="1.45"/>
<line x1="283.58" y1="491.00" x2="283.58" y2="492.90" stroke="#ff2a2a" stroke-width="0.8" />
<line x1="282.28" y1="491.00" x2="284.88" y2="491.00" stroke="#ff2a2a" stroke-width="0.8" />
<circle cx="283.77" cy="478.38" r="1.05" fill="#ff2a2a"/>
<circle cx="282.19" cy="479.27" r="1.05" fill="#ff2a2a"/>
<circle cx="284.83" cy="486.15" r="1.05" fill="#ff2a2a"/>
<circle cx="283.06" cy="492.01" r="1.05" fill="#ff2a2a"/>
<circle cx="284.20" cy="494.43" r="1.05" fill="#ff2a2a"/>
<circle cx="282.21" cy="496.34" r="1.05" fill="#ff2a2a"/>
<circle cx="284.32" cy="498.25" r="1.05" fill="#ff2a2a"/>
<circle cx="283.62" cy="500.16" r="1.05" fill="#ff2a2a"/>
<rect x="291.29" y="495.16" width="4.35" height="22.84" fill="#fff" stroke="#2a2aff" stroke-width="1.45"/>
<line x1="293.46" y1="493.56" x2="293.46" y2="494.43" stroke="#2a2aff" stroke-width="0.8" />
<line x1="292.16" y1="493.56" x2="294.76" y2="493.56" stroke="#2a2aff" stroke-width="0.8" />
<circle cx="293.28" cy="492.01" r="1.05" fill="#2a2aff"/>
<circle cx="292.37" cy="493.16" r="1.05" fill="#2a2aff"/>
<circle cx="294.62" cy="494.43" r="1.05" fill="#2a2aff"/>
<circle cx="292.75" cy="495.70" r="1.05" fill="#2a2aff"/>
<circle cx="294.21" cy="497.23" r="1.05" fill="#2a2aff"/>
<circle cx="292.03" cy="498.89" r="1.05" fill="#2a2aff"/>
<circle cx="294.34" cy="500.42" r="1.05" fill="#2a2aff"/>
<circle cx="293.94" cy="501.95" r="1.05" fill="#2a2aff"/>
<rect x="298.29" y="496.30" width="4.35" height="21.70" fill="#fff" stroke="#ff2a2a" stroke-width="1.45"/>
<line x1="300.46" y1="494.26" x2="300.46" y2="495.58" stroke="#ff2a2a" stroke-width="0.8" />
<line x1="299.16" y1="494.26" x2="301.76" y2="494.26" stroke="#ff2a2a" stroke-width="0.8" />
<circle cx="300.58" cy="488.83" r="1.05" fill="#ff2a2a"/>
<circle cx="299.11" cy="494.69" r="1.05" fill="#ff2a2a"/>
<circle cx="301.70" cy="496.34" r="1.05" fill="#ff2a2a"/>
<circle cx="299.88" cy="498.25" r="1.05" fill="#ff2a2a"/>
<circle cx="301.39" cy="500.16" r="1.05" fill="#ff2a2a"/>
<circle cx="299.20" cy="502.07" r="1.05" fill="#ff2a2a"/>
<circle cx="301.33" cy="503.86" r="1.05" fill="#ff2a2a"/>
<rect x="308.17" y="494.90" width="4.35" height="23.10" fill="#fff" stroke="#2a2aff" stroke-width="1.45"/>
<line x1="310.34" y1="493.01" x2="310.34" y2="494.18" stroke="#2a2aff" stroke-width="0.8" />
<line x1="309.04" y1="493.01" x2="311.64" y2="493.01" stroke="#2a2aff" stroke-width="0.8" />
<circle cx="310.63" cy="487.17" r="1.05" fill="#2a2aff"/>
<circle cx="308.91" cy="489.72" r="1.05" fill="#2a2aff"/>
<circle cx="311.49" cy="490.99" r="1.05" fill="#2a2aff"/>
<circle cx="309.89" cy="492.90" r="1.05" fill="#2a2aff"/>
<circle cx="310.83" cy="495.07" r="1.05" fill="#2a2aff"/>
<circle cx="308.93" cy="496.98" r="1.05" fill="#2a2aff"/>
<circle cx="311.06" cy="498.89" r="1.05" fill="#2a2aff"/>
<circle cx="310.74" cy="500.55" r="1.05" fill="#2a2aff"/>
<rect x="315.17" y="499.36" width="4.35" height="18.64" fill="#fff" stroke="#ff2a2a" stroke-width="1.45"/>
<line x1="317.34" y1="496.61" x2="317.34" y2="498.64" stroke="#ff2a2a" stroke-width="0.8" />
<line x1="316.04" y1="496.61" x2="318.64" y2="496.61" stroke="#ff2a2a" stroke-width="0.8" />
<circle cx="317.50" cy="485.00" r="1.05" fill="#ff2a2a"/>
<circle cx="316.18" cy="489.72" r="1.05" fill="#ff2a2a"/>
<circle cx="318.77" cy="492.90" r="1.05" fill="#ff2a2a"/>
<circle cx="316.63" cy="496.34" r="1.05" fill="#ff2a2a"/>
<circle cx="318.16" cy="498.89" r="1.05" fill="#ff2a2a"/>
<circle cx="316.00" cy="501.44" r="1.05" fill="#ff2a2a"/>
<circle cx="318.39" cy="503.99" r="1.05" fill="#ff2a2a"/>
<circle cx="317.61" cy="506.53" r="1.05" fill="#ff2a2a"/>
<circle cx="316.64" cy="508.19" r="1.05" fill="#ff2a2a"/>
<rect x="325.05" y="493.88" width="4.35" height="24.12" fill="#fff" stroke="#2a2aff" stroke-width="1.45"/>
<line x1="327.22" y1="491.56" x2="327.22" y2="493.16" stroke="#2a2aff" stroke-width="0.8" />
<line x1="325.92" y1="491.56" x2="328.52" y2="491.56" stroke="#2a2aff" stroke-width="0.8" />
<circle cx="327.49" cy="482.33" r="1.05" fill="#2a2aff"/>
<circle cx="326.00" cy="492.90" r="1.05" fill="#2a2aff"/>
<circle cx="328.52" cy="494.43" r="1.05" fill="#2a2aff"/>
<circle cx="326.36" cy="495.96" r="1.05" fill="#2a2aff"/>
<circle cx="328.04" cy="497.62" r="1.05" fill="#2a2aff"/>
<circle cx="325.91" cy="498.89" r="1.05" fill="#2a2aff"/>
<circle cx="328.52" cy="500.55" r="1.05" fill="#2a2aff"/>
<rect x="332.05" y="492.61" width="4.35" height="25.39" fill="#fff" stroke="#ff2a2a" stroke-width="1.45"/>
<line x1="334.22" y1="490.63" x2="334.22" y2="491.88" stroke="#ff2a2a" stroke-width="0.8" />
<line x1="332.92" y1="490.63" x2="335.52" y2="490.63" stroke="#ff2a2a" stroke-width="0.8" />
<circle cx="334.41" cy="488.83" r="1.05" fill="#ff2a2a"/>
<circle cx="332.89" cy="491.63" r="1.05" fill="#ff2a2a"/>
<circle cx="335.35" cy="493.16" r="1.05" fill="#ff2a2a"/>
<circle cx="333.72" cy="495.07" r="1.05" fill="#ff2a2a"/>
<circle cx="334.63" cy="496.98" r="1.05" fill="#ff2a2a"/>
<circle cx="332.80" cy="498.89" r="1.05" fill="#ff2a2a"/>
<circle cx="335.02" cy="500.80" r="1.05" fill="#ff2a2a"/>
<circle cx="334.29" cy="503.09" r="1.05" fill="#ff2a2a"/>
<rect x="341.93" y="498.47" width="4.35" height="19.53" fill="#fff" stroke="#2a2aff" stroke-width="1.45"/>
<line x1="344.10" y1="496.46" x2="344.10" y2="497.74" stroke="#2a2aff" stroke-width="0.8" />
<line x1="342.80" y1="496.46" x2="345.40" y2="496.46" stroke="#2a2aff" stroke-width="0.8" />
<circle cx="343.84" cy="490.99" r="1.05" fill="#2a2aff"/>
<circle cx="343.06" cy="495.45" r="1.05" fill="#2a2aff"/>
<circle cx="345.08" cy="496.98" r="1.05" fill="#2a2aff"/>
<circle cx="343.35" cy="498.89" r="1.05" fill="#2a2aff"/>
<circle cx="344.73" cy="500.80" r="1.05" fill="#2a2aff"/>
<circle cx="342.92" cy="502.71" r="1.05" fill="#2a2aff"/>
<circle cx="344.85" cy="504.24" r="1.05" fill="#2a2aff"/>
<circle cx="344.37" cy="505.64" r="1.05" fill="#2a2aff"/>
<rect x="348.93" y="497.45" width="4.35" height="20.55" fill="#fff" stroke="#ff2a2a" stroke-width="1.45"/>
<line x1="351.10" y1="494.88" x2="351.10" y2="496.72" stroke="#ff2a2a" stroke-width="0.8" />
<line x1="349.80" y1="494.88" x2="352.40" y2="494.88" stroke="#ff2a2a" stroke-width="0.8" />
<circle cx="351.13" cy="483.35" r="1.05" fill="#ff2a2a"/>
<circle cx="350.13" cy="488.44" r="1.05" fill="#ff2a2a"/>
<circle cx="352.49" cy="493.54" r="1.05" fill="#ff2a2a"/>
<circle cx="350.72" cy="494.81" r="1.05" fill="#ff2a2a"/>
<circle cx="351.67" cy="496.60" r="1.05" fill="#ff2a2a"/>
<circle cx="349.65" cy="498.51" r="1.05" fill="#ff2a2a"/>
<circle cx="352.02" cy="500.42" r="1.05" fill="#ff2a2a"/>
<circle cx="351.63" cy="502.46" r="1.05" fill="#ff2a2a"/>
<circle cx="350.47" cy="504.37" r="1.05" fill="#ff2a2a"/>
<rect x="358.81" y="498.09" width="4.35" height="19.91" fill="#fff" stroke="#2a2aff" stroke-width="1.45"/>
<line x1="360.98" y1="495.63" x2="360.98" y2="497.36" stroke="#2a2aff" stroke-width="0.8" />
<line x1="359.68" y1="495.63" x2="362.28" y2="495.63" stroke="#2a2aff" stroke-width="0.8" />
<circle cx="360.77" cy="483.35" r="1.05" fill="#2a2aff"/>
<circle cx="359.59" cy="488.44" r="1.05" fill="#2a2aff"/>
<circle cx="362.02" cy="493.54" r="1.05" fill="#2a2aff"/>
<circle cx="360.22" cy="495.45" r="1.05" fill="#2a2aff"/>
<circle cx="361.67" cy="497.23" r="1.05" fill="#2a2aff"/>
<circle cx="359.63" cy="498.89" r="1.05" fill="#2a2aff"/>
<circle cx="361.84" cy="500.80" r="1.05" fill="#2a2aff"/>
<circle cx="360.98" cy="503.09" r="1.05" fill="#2a2aff"/>
<rect x="365.81" y="503.18" width="4.35" height="14.82" fill="#fff" stroke="#ff2a2a" stroke-width="1.45"/>
<line x1="367.98" y1="501.01" x2="367.98" y2="502.46" stroke="#ff2a2a" stroke-width="0.8" />
<line x1="366.68" y1="501.01" x2="369.28" y2="501.01" stroke="#ff2a2a" stroke-width="0.8" />
<circle cx="367.93" cy="492.90" r="1.05" fill="#ff2a2a"/>
<circle cx="366.70" cy="494.81" r="1.05" fill="#ff2a2a"/>
<circle cx="369.22" cy="497.36" r="1.05" fill="#ff2a2a"/>
<circle cx="367.65" cy="499.27" r="1.05" fill="#ff2a2a"/>
<circle cx="368.79" cy="501.44" r="1.05" fill="#ff2a2a"/>
<circle cx="366.59" cy="503.60" r="1.05" fill="#ff2a2a"/>
<circle cx="369.05" cy="505.90" r="1.05" fill="#ff2a2a"/>
<circle cx="368.39" cy="507.81" r="1.05" fill="#ff2a2a"/>
<circle cx="366.81" cy="509.46" r="1.05" fill="#ff2a2a"/>
<line x1="254.60" y1="454.00" x2="254.60" y2="518.70" stroke="#1a1a1a" stroke-width="1.4" />
<line x1="253.90" y1="518.00" x2="373.98" y2="518.00" stroke="#1a1a1a" stroke-width="1.3" />
<line x1="252.00" y1="518.00" x2="254.60" y2="518.00" stroke="#1a1a1a" stroke-width="1.0" />
<text transform="translate(251.10,519.80) scale(1.2,1)" font-size="5.0" font-weight="normal" text-anchor="end" fill="#000" stroke="#000" stroke-width="0.22" >310</text>
<line x1="252.00" y1="505.26" x2="254.60" y2="505.26" stroke="#1a1a1a" stroke-width="1.0" />
<text transform="translate(251.10,507.06) scale(1.2,1)" font-size="5.0" font-weight="normal" text-anchor="end" fill="#000" stroke="#000" stroke-width="0.22" >320</text>
<line x1="252.00" y1="492.52" x2="254.60" y2="492.52" stroke="#1a1a1a" stroke-width="1.0" />
<text transform="translate(251.10,494.32) scale(1.2,1)" font-size="5.0" font-weight="normal" text-anchor="end" fill="#000" stroke="#000" stroke-width="0.22" >330</text>
<line x1="252.00" y1="479.78" x2="254.60" y2="479.78" stroke="#1a1a1a" stroke-width="1.0" />
<text transform="translate(251.10,481.58) scale(1.2,1)" font-size="5.0" font-weight="normal" text-anchor="end" fill="#000" stroke="#000" stroke-width="0.22" >340</text>
<line x1="252.00" y1="467.04" x2="254.60" y2="467.04" stroke="#1a1a1a" stroke-width="1.0" />
<text transform="translate(251.10,468.84) scale(1.2,1)" font-size="5.0" font-weight="normal" text-anchor="end" fill="#000" stroke="#000" stroke-width="0.22" >350</text>
<line x1="252.00" y1="454.30" x2="254.60" y2="454.30" stroke="#1a1a1a" stroke-width="1.0" />
<text transform="translate(251.10,456.10) scale(1.2,1)" font-size="5.0" font-weight="normal" text-anchor="end" fill="#000" stroke="#000" stroke-width="0.22" >360</text>
<line x1="263.10" y1="518.00" x2="263.10" y2="520.60" stroke="#1a1a1a" stroke-width="1.0" />
<line x1="279.98" y1="518.00" x2="279.98" y2="520.60" stroke="#1a1a1a" stroke-width="1.0" />
<line x1="296.86" y1="518.00" x2="296.86" y2="520.60" stroke="#1a1a1a" stroke-width="1.0" />
<line x1="313.74" y1="518.00" x2="313.74" y2="520.60" stroke="#1a1a1a" stroke-width="1.0" />
<line x1="330.62" y1="518.00" x2="330.62" y2="520.60" stroke="#1a1a1a" stroke-width="1.0" />
<line x1="347.50" y1="518.00" x2="347.50" y2="520.60" stroke="#1a1a1a" stroke-width="1.0" />
<line x1="364.38" y1="518.00" x2="364.38" y2="520.60" stroke="#1a1a1a" stroke-width="1.0" />
<text transform="translate(236.30,486.40) scale(1.2,1) rotate(-90)" font-size="5.2" font-weight="normal" text-anchor="middle" fill="#000" stroke="#000" stroke-width="0.1" >g/L</text>
<text transform="translate(266.00,526.00) scale(1.2,1) rotate(-45)" font-size="5.4" font-weight="normal" text-anchor="end" fill="#000" stroke="#000" stroke-width="0.22" >negative control</text>
<text transform="translate(282.88,526.00) scale(1.2,1) rotate(-45)" font-size="5.4" font-weight="normal" text-anchor="end" fill="#000" stroke="#000" stroke-width="0.22" >STR-V003 1 dose</text>
<text transform="translate(299.76,526.00) scale(1.2,1) rotate(-45)" font-size="5.4" font-weight="normal" text-anchor="end" fill="#000" stroke="#000" stroke-width="0.22" >STR-V003 1.5 dose</text>
<text transform="translate(316.64,526.00) scale(1.2,1) rotate(-45)" font-size="5.4" font-weight="normal" text-anchor="end" fill="#000" stroke="#000" stroke-width="0.22" >STR-V003 2 dose</text>
<text transform="translate(333.52,526.00) scale(1.2,1) rotate(-45)" font-size="5.4" font-weight="normal" text-anchor="end" fill="#000" stroke="#000" stroke-width="0.22" >empty LNPs 1 dose</text>
<text transform="translate(350.40,526.00) scale(1.2,1) rotate(-45)" font-size="5.4" font-weight="normal" text-anchor="end" fill="#000" stroke="#000" stroke-width="0.22" >empty LNPs 1.5 dose</text>
<text transform="translate(367.28,526.00) scale(1.2,1) rotate(-45)" font-size="5.4" font-weight="normal" text-anchor="end" fill="#000" stroke="#000" stroke-width="0.22" >empty LNPs 2 dose</text>
</g></svg>
</body></html>
